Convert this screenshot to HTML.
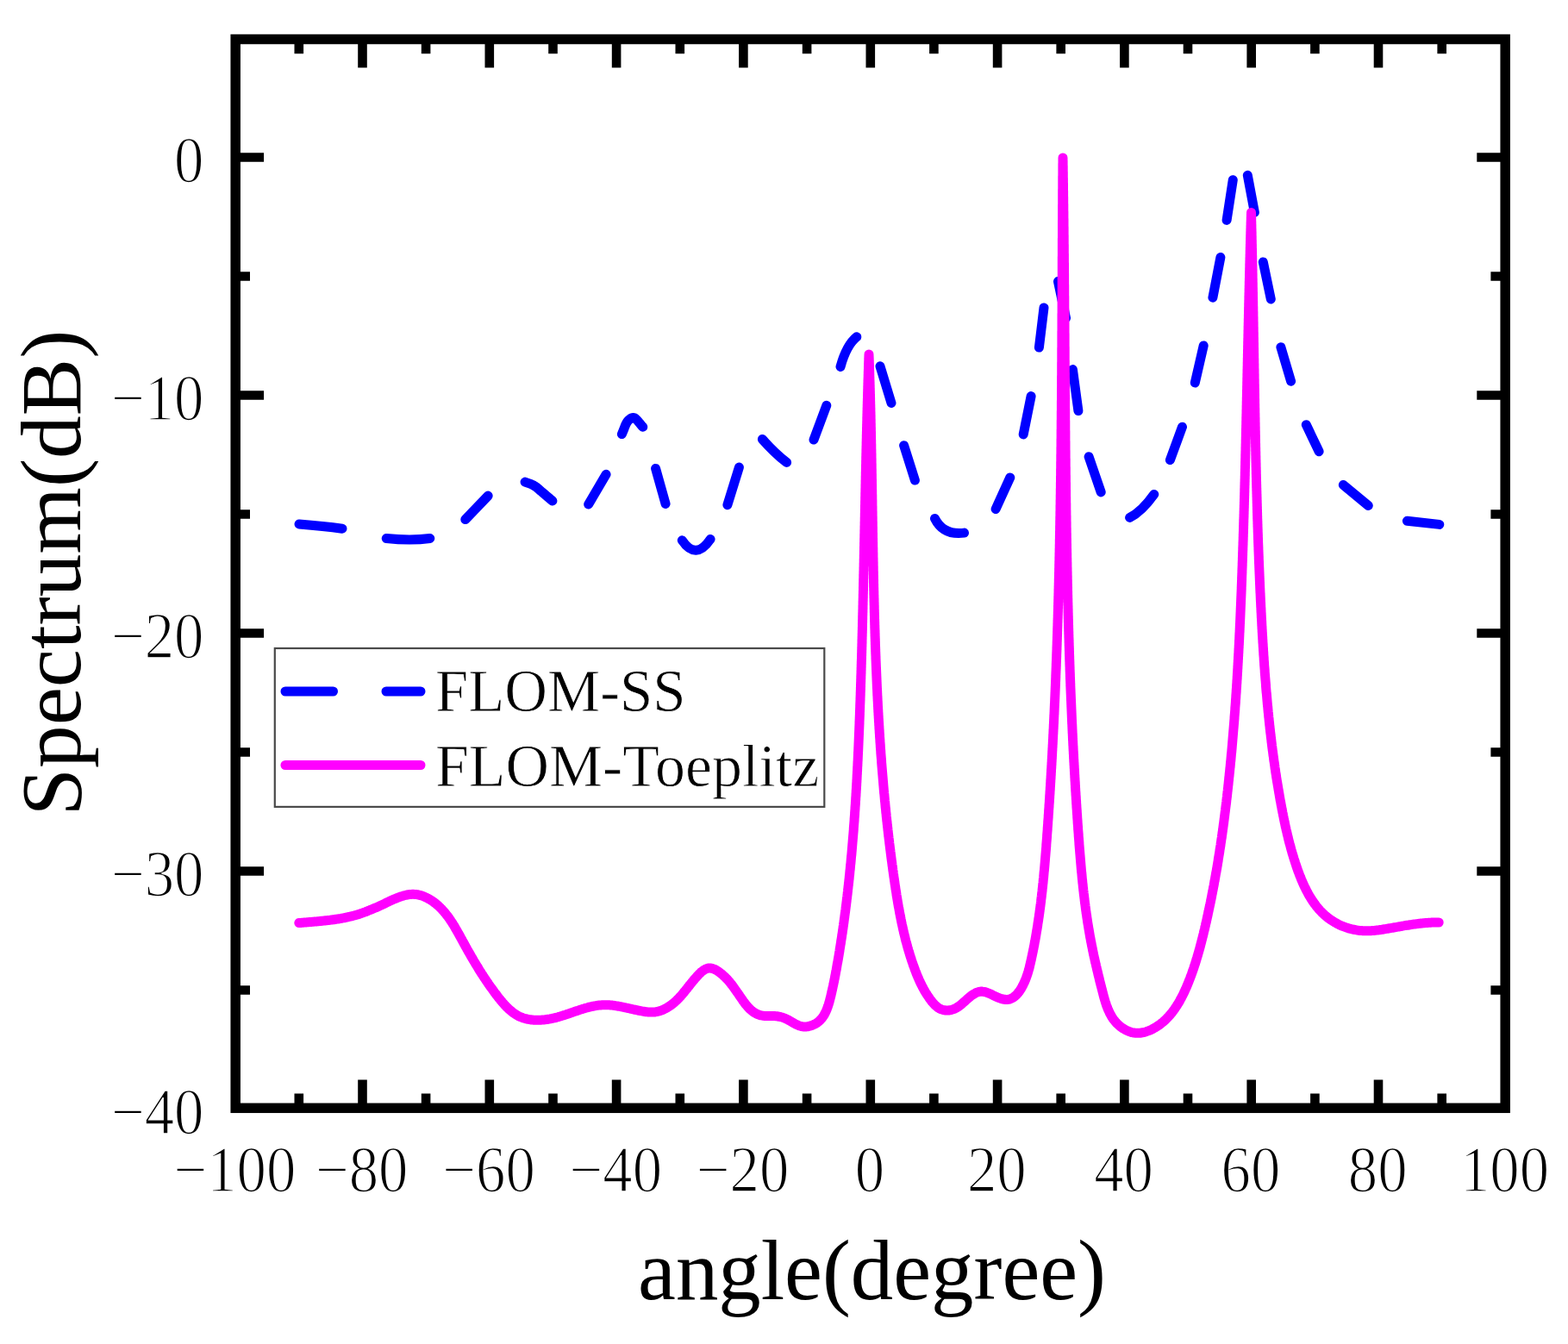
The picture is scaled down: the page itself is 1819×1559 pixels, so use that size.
<!DOCTYPE html><html><head><meta charset="utf-8"><title>Spectrum</title><style>html,body{margin:0;padding:0;background:#fff;}svg{display:block;}text{font-family:"Liberation Serif","Times New Roman",serif;fill:#000;}</style></head><body>
<svg width="1819" height="1559" viewBox="0 0 1819 1559">
<rect width="1819" height="1559" fill="#fff"/>
<path d="M347.0 608.0Q376.0 610.4 397.0 613.2 M448.2 624.5Q476.5 627.5 498.8 624.5 M539.8 602.6L566.2 575.1 M609.1 559.1L610.5 559.6 611.9 560.1 613.4 560.6 614.8 561.1 616.2 561.6 617.6 562.3 619.0 563.0 620.2 563.8 621.5 564.6 622.7 565.6 623.9 566.6 625.1 567.6 626.4 568.7 627.6 569.7 628.8 570.8 630.0 571.8 631.2 572.8 632.4 573.8 633.6 574.9 634.9 575.9 636.1 576.9 637.3 578.0 638.5 579.0 639.7 580.1 640.9 581.1 M682.7 585.0L703.1 550.3 M721.4 503.6L722.0 502.2 722.6 500.6 723.3 499.1 723.9 497.5 724.5 495.9 725.1 494.4 725.7 492.9 726.3 491.6 727.0 490.3 727.7 489.2 728.5 488.2 730.0 486.7 731.6 485.4 733.2 484.6 734.9 484.4 735.9 484.7 737.0 485.3 738.0 486.3 739.1 487.4 740.2 488.6 741.3 490.0 742.5 491.4 743.6 492.8 744.7 494.1 745.8 495.3 M760.6 543.4L772.1 584.4 M791.3 626.8Q807.1 650.4 824.1 625.5 M843.9 585.7L857.4 542.1 M884.4 509.5Q898.5 525.5 912.6 536.4 M944.0 510.1L958.8 470.3 M975.0 425.4Q982.0 400.3 993.8 390.8 M1021.0 424.8L1034.0 467.5 M1048.6 516.7L1061.4 557.1 M1084.5 601.4Q1094.5 621.2 1118.5 618.1 M1155.1 590.5L1171.8 553.9 M1187.2 503.9L1196.1 459.6 M1205.4 403.1L1211.0 356.9 M1227.5 326.5L1236.5 369.0 M1244.4 428.6L1250.9 476.6 M1263.1 529.8L1277.2 570.9 M1310.6 600.4Q1324.7 593.3 1338.8 573.4 M1357.4 533.6L1371.5 495.2 M1386.3 444.0L1396.2 400.9 M1406.9 345.2L1415.9 298.5 M1423.1 255.4L1430.3 208.7 M1447.3 203.3L1455.4 246.4 M1465.3 303.9L1474.3 347.0 M1485.9 402.7L1497.6 442.2 M1515.3 492.7L1530.1 523.7 M1558.3 562.5L1587.3 586.5 M1632.4 604.2L1669.8 608.4" fill="none" stroke="#00f" stroke-width="11" stroke-linecap="round" stroke-linejoin="round"/>
<path d="M346.8 1070.6L348.0 1070.5 349.2 1070.4 350.4 1070.3 351.6 1070.2 352.8 1070.1 354.0 1070.0 355.2 1069.9 356.4 1069.8 357.6 1069.7 358.8 1069.6 360.0 1069.5 361.2 1069.4 362.4 1069.3 363.6 1069.2 364.8 1069.1 366.0 1069.0 367.2 1068.9 368.3 1068.8 369.5 1068.7 370.7 1068.6 371.9 1068.5 373.1 1068.3 374.3 1068.2 375.5 1068.1 376.7 1068.0 377.9 1067.8 379.1 1067.7 380.3 1067.6 381.5 1067.4 382.7 1067.3 383.9 1067.1 385.1 1067.0 386.3 1066.8 387.4 1066.7 388.6 1066.5 389.8 1066.3 391.0 1066.1 392.2 1066.0 393.4 1065.8 394.6 1065.6 395.8 1065.4 396.9 1065.1 398.1 1064.9 399.3 1064.7 400.5 1064.5 401.7 1064.2 402.8 1064.0 404.0 1063.7 405.2 1063.4 406.3 1063.2 407.5 1062.9 408.7 1062.6 409.8 1062.3 411.0 1062.0 412.2 1061.7 413.3 1061.3 414.5 1061.0 415.6 1060.6 416.8 1060.3 417.9 1059.9 419.0 1059.5 420.2 1059.1 421.3 1058.7 422.4 1058.3 423.6 1057.9 424.7 1057.5 425.8 1057.0 426.9 1056.6 428.0 1056.1 429.1 1055.7 430.3 1055.2 431.4 1054.8 432.5 1054.3 433.6 1053.8 434.7 1053.3 435.8 1052.9 436.9 1052.4 438.0 1051.9 439.1 1051.4 440.2 1050.9 441.2 1050.4 442.3 1049.9 443.4 1049.4 444.5 1048.9 445.6 1048.4 446.7 1047.9 447.8 1047.3 448.9 1046.8 450.0 1046.3 451.0 1045.8 452.1 1045.3 453.2 1044.8 454.3 1044.3 455.4 1043.8 456.5 1043.3 457.6 1042.8 458.7 1042.4 459.8 1041.9 460.9 1041.5 462.1 1041.0 463.2 1040.6 464.3 1040.2 465.5 1039.8 466.6 1039.5 467.8 1039.1 468.9 1038.8 470.1 1038.5 471.2 1038.2 472.4 1038.0 473.6 1037.8 474.8 1037.6 476.0 1037.5 477.2 1037.4 478.4 1037.3 479.6 1037.3 480.8 1037.4 482.0 1037.5 483.2 1037.6 484.4 1037.8 485.5 1038.0 486.7 1038.3 487.9 1038.6 489.0 1038.9 490.2 1039.3 491.3 1039.7 492.4 1040.2 493.5 1040.7 494.6 1041.2 495.7 1041.7 496.7 1042.3 497.8 1042.9 498.8 1043.5 499.8 1044.1 500.8 1044.8 501.8 1045.4 502.8 1046.1 503.8 1046.9 504.7 1047.6 505.7 1048.3 506.6 1049.1 507.5 1049.9 508.4 1050.7 509.3 1051.5 510.2 1052.3 511.0 1053.2 511.9 1054.0 512.7 1054.9 513.5 1055.8 514.3 1056.7 515.1 1057.6 515.9 1058.5 516.6 1059.4 517.4 1060.4 518.1 1061.3 518.9 1062.3 519.6 1063.2 520.3 1064.2 521.0 1065.2 521.7 1066.1 522.4 1067.1 523.0 1068.1 523.7 1069.1 524.4 1070.1 525.0 1071.2 525.6 1072.2 526.3 1073.2 526.9 1074.2 527.5 1075.2 528.1 1076.3 528.7 1077.3 529.3 1078.4 529.9 1079.4 530.5 1080.4 531.1 1081.5 531.7 1082.5 532.3 1083.6 532.9 1084.6 533.4 1085.7 534.0 1086.7 534.6 1087.8 535.2 1088.9 535.8 1089.9 536.3 1091.0 536.9 1092.0 537.5 1093.1 538.1 1094.1 538.6 1095.2 539.2 1096.2 539.8 1097.3 540.4 1098.3 541.0 1099.4 541.5 1100.4 542.1 1101.5 542.7 1102.5 543.3 1103.6 543.9 1104.6 544.5 1105.7 545.1 1106.7 545.7 1107.7 546.3 1108.8 546.9 1109.8 547.5 1110.9 548.1 1111.9 548.7 1112.9 549.3 1114.0 549.9 1115.0 550.5 1116.0 551.2 1117.1 551.8 1118.1 552.4 1119.1 553.0 1120.2 553.7 1121.2 554.3 1122.2 554.9 1123.2 555.5 1124.3 556.2 1125.3 556.8 1126.3 557.5 1127.3 558.1 1128.3 558.7 1129.3 559.4 1130.3 560.1 1131.4 560.7 1132.4 561.4 1133.4 562.0 1134.4 562.7 1135.4 563.4 1136.4 564.0 1137.4 564.7 1138.4 565.4 1139.4 566.1 1140.3 566.7 1141.3 567.4 1142.3 568.1 1143.3 568.8 1144.3 569.5 1145.3 570.2 1146.2 570.9 1147.2 571.6 1148.2 572.3 1149.2 573.0 1150.1 573.7 1151.1 574.4 1152.1 575.2 1153.0 575.9 1154.0 576.6 1154.9 577.3 1155.9 578.1 1156.8 578.8 1157.8 579.6 1158.7 580.3 1159.7 581.1 1160.6 581.9 1161.5 582.6 1162.4 583.4 1163.3 584.2 1164.2 585.0 1165.1 585.8 1166.0 586.7 1166.9 587.5 1167.8 588.3 1168.6 589.2 1169.4 590.1 1170.3 591.0 1171.1 591.9 1171.9 592.8 1172.7 593.7 1173.4 594.7 1174.2 595.6 1174.9 596.6 1175.6 597.6 1176.2 598.6 1176.9 599.6 1177.5 600.7 1178.1 601.7 1178.7 602.8 1179.2 603.9 1179.7 605.0 1180.1 606.1 1180.6 607.3 1181.0 608.4 1181.3 609.6 1181.6 610.7 1181.9 611.9 1182.2 613.1 1182.4 614.3 1182.6 615.5 1182.8 616.7 1183.0 617.9 1183.1 619.1 1183.2 620.3 1183.3 621.5 1183.3 622.7 1183.3 623.9 1183.3 625.1 1183.3 626.3 1183.3 627.5 1183.2 628.7 1183.1 629.9 1183.0 631.0 1182.9 632.2 1182.8 633.4 1182.6 634.6 1182.5 635.8 1182.3 637.0 1182.1 638.2 1181.9 639.4 1181.6 640.5 1181.4 641.7 1181.1 642.9 1180.9 644.0 1180.6 645.2 1180.3 646.4 1180.0 647.5 1179.7 648.7 1179.3 649.8 1179.0 651.0 1178.6 652.1 1178.3 653.3 1177.9 654.4 1177.6 655.6 1177.2 656.7 1176.8 657.8 1176.4 659.0 1176.1 660.1 1175.7 661.3 1175.3 662.4 1174.9 663.5 1174.5 664.7 1174.1 665.8 1173.7 666.9 1173.3 668.1 1172.9 669.2 1172.6 670.4 1172.2 671.5 1171.8 672.6 1171.4 673.8 1171.0 674.9 1170.7 676.1 1170.3 677.2 1170.0 678.4 1169.6 679.5 1169.3 680.7 1169.0 681.8 1168.7 683.0 1168.3 684.2 1168.1 685.3 1167.8 686.5 1167.5 687.7 1167.3 688.9 1167.0 690.0 1166.8 691.2 1166.6 692.4 1166.4 693.6 1166.2 694.8 1166.1 696.0 1166.0 697.2 1165.9 698.4 1165.8 699.6 1165.7 700.8 1165.7 702.0 1165.7 703.2 1165.7 704.4 1165.7 705.6 1165.8 706.8 1165.8 708.0 1165.9 709.2 1166.0 710.4 1166.1 711.6 1166.3 712.8 1166.4 713.9 1166.6 715.1 1166.8 716.3 1167.0 717.5 1167.2 718.7 1167.4 719.9 1167.6 721.0 1167.9 722.2 1168.1 723.4 1168.4 724.6 1168.6 725.7 1168.9 726.9 1169.1 728.1 1169.4 729.3 1169.7 730.4 1169.9 731.6 1170.2 732.8 1170.4 733.9 1170.7 735.1 1171.0 736.3 1171.2 737.5 1171.5 738.6 1171.7 739.8 1172.0 741.0 1172.2 742.2 1172.5 743.3 1172.7 744.5 1172.9 745.7 1173.1 746.9 1173.3 748.1 1173.5 749.3 1173.7 750.5 1173.8 751.7 1173.9 752.9 1174.0 754.1 1174.1 755.3 1174.1 756.5 1174.1 757.7 1174.1 758.9 1174.0 760.1 1173.9 761.2 1173.7 762.4 1173.5 763.6 1173.2 764.8 1172.9 765.9 1172.5 767.0 1172.1 768.2 1171.7 769.3 1171.2 770.4 1170.7 771.4 1170.2 772.5 1169.6 773.5 1169.1 774.6 1168.4 775.6 1167.8 776.6 1167.1 777.6 1166.5 778.6 1165.8 779.5 1165.0 780.5 1164.3 781.4 1163.5 782.3 1162.8 783.2 1162.0 784.1 1161.2 785.0 1160.3 785.8 1159.5 786.7 1158.6 787.5 1157.8 788.3 1156.9 789.2 1156.0 790.0 1155.1 790.8 1154.2 791.5 1153.3 792.3 1152.4 793.1 1151.5 793.8 1150.5 794.6 1149.6 795.4 1148.7 796.1 1147.7 796.9 1146.8 797.6 1145.9 798.3 1144.9 799.1 1144.0 799.8 1143.0 800.6 1142.1 801.3 1141.1 802.1 1140.2 802.8 1139.3 803.6 1138.3 804.4 1137.4 805.1 1136.5 805.9 1135.6 806.7 1134.7 807.5 1133.8 808.3 1132.9 809.1 1132.0 809.9 1131.1 810.8 1130.2 811.6 1129.4 812.5 1128.6 813.3 1127.7 814.2 1127.0 815.2 1126.2 816.2 1125.5 817.2 1124.8 818.2 1124.3 819.3 1123.8 820.4 1123.4 821.6 1123.1 822.8 1123.0 824.0 1123.0 825.2 1123.2 826.4 1123.4 827.5 1123.8 828.6 1124.2 829.7 1124.8 830.8 1125.3 831.8 1125.9 832.8 1126.6 833.8 1127.3 834.8 1128.0 835.7 1128.7 836.7 1129.4 837.6 1130.2 838.5 1131.0 839.4 1131.8 840.3 1132.6 841.2 1133.4 842.0 1134.3 842.9 1135.1 843.7 1136.0 844.5 1136.9 845.3 1137.8 846.1 1138.7 846.8 1139.6 847.6 1140.6 848.3 1141.5 849.1 1142.5 849.8 1143.4 850.5 1144.4 851.2 1145.3 851.9 1146.3 852.6 1147.3 853.3 1148.3 854.0 1149.3 854.7 1150.3 855.4 1151.3 856.0 1152.2 856.7 1153.2 857.4 1154.2 858.0 1155.2 858.7 1156.2 859.4 1157.2 860.1 1158.2 860.8 1159.2 861.5 1160.2 862.1 1161.2 862.9 1162.1 863.6 1163.1 864.3 1164.0 865.0 1165.0 865.8 1165.9 866.6 1166.8 867.4 1167.8 868.2 1168.6 869.0 1169.5 869.8 1170.4 870.7 1171.2 871.6 1172.0 872.5 1172.7 873.5 1173.5 874.5 1174.2 875.5 1174.8 876.5 1175.4 877.6 1176.0 878.7 1176.5 879.8 1176.9 880.9 1177.3 882.1 1177.7 883.3 1177.9 884.4 1178.1 885.6 1178.3 886.8 1178.4 888.0 1178.5 889.2 1178.5 890.4 1178.5 891.6 1178.5 892.8 1178.5 894.0 1178.5 895.2 1178.5 896.4 1178.5 897.6 1178.5 898.8 1178.6 900.0 1178.7 901.2 1178.8 902.4 1179.0 903.6 1179.2 904.8 1179.4 905.9 1179.7 907.1 1180.0 908.3 1180.4 909.4 1180.8 910.5 1181.2 911.6 1181.7 912.7 1182.2 913.8 1182.7 914.8 1183.3 915.9 1183.9 916.9 1184.5 918.0 1185.1 919.0 1185.7 920.0 1186.3 921.1 1186.9 922.1 1187.5 923.2 1188.1 924.2 1188.6 925.3 1189.1 926.4 1189.6 927.6 1190.0 928.7 1190.3 929.9 1190.6 931.1 1190.8 932.3 1190.9 933.5 1191.0 934.7 1190.9 935.9 1190.9 937.1 1190.7 938.2 1190.5 939.4 1190.2 940.6 1189.9 941.7 1189.5 942.8 1189.1 943.9 1188.6 945.0 1188.1 946.1 1187.5 947.1 1186.9 948.1 1186.2 949.0 1185.5 950.0 1184.7 950.9 1183.9 951.7 1183.1 952.5 1182.2 953.3 1181.3 954.0 1180.3 954.7 1179.3 955.4 1178.3 956.0 1177.3 956.6 1176.3 957.2 1175.2 957.7 1174.1 958.2 1173.1 958.7 1172.0 959.2 1170.8 959.6 1169.7 960.0 1168.6 960.4 1167.5 960.8 1166.3 961.2 1165.2 961.5 1164.0 961.9 1162.9 962.2 1161.7 962.5 1160.6 962.8 1159.4 963.1 1158.2 963.4 1157.1 963.7 1155.9 964.0 1154.7 964.2 1153.6 964.5 1152.4 964.8 1151.2 965.0 1150.1 965.3 1148.9 965.6 1147.7 965.8 1146.5 966.1 1145.4 966.3 1144.2 966.6 1143.0 966.8 1141.8 967.1 1140.7 967.3 1139.5 967.6 1138.3 967.8 1137.1 968.0 1136.0 968.3 1134.8 968.5 1133.6 968.7 1132.4 969.0 1131.2 969.2 1130.1 969.4 1128.9 969.6 1127.7 969.8 1126.5 970.1 1125.3 970.3 1124.2 970.5 1123.0 970.7 1121.8 970.9 1120.6 971.1 1119.4 971.3 1118.2 971.5 1117.1 971.8 1115.9 972.0 1114.7 972.2 1113.5 972.4 1112.3 972.6 1111.1 972.8 1110.0 973.0 1108.8 973.2 1107.6 973.4 1106.4 973.6 1105.2 973.8 1104.0 974.0 1102.8 974.1 1101.7 974.3 1100.5 974.5 1099.3 974.7 1098.1 974.9 1096.9 975.1 1095.7 975.3 1094.5 975.5 1093.4 975.6 1092.2 975.8 1091.0 976.0 1089.8 976.2 1088.6 976.4 1087.4 976.6 1086.2 976.7 1085.0 976.9 1083.8 977.1 1082.7 977.3 1081.5 977.4 1080.3 977.6 1079.1 977.8 1077.9 978.0 1076.7 978.1 1075.5 978.3 1074.3 978.5 1073.1 978.6 1072.0 978.8 1070.8 979.0 1069.6 979.1 1068.4 979.3 1067.2 979.4 1066.0 979.6 1064.8 979.8 1063.6 979.9 1062.4 980.1 1061.2 980.2 1060.1 980.4 1058.9 980.6 1057.7 980.7 1056.5 980.9 1055.3 981.0 1054.1 981.2 1052.9 981.3 1051.7 981.5 1050.5 981.6 1049.3 981.8 1048.1 981.9 1046.9 982.1 1045.8 982.2 1044.6 982.3 1043.4 982.5 1042.2 982.6 1041.0 982.8 1039.8 982.9 1038.6 983.1 1037.4 983.2 1036.2 983.3 1035.0 983.5 1033.8 983.6 1032.6 983.7 1031.4 983.9 1030.2 984.0 1029.1 984.1 1027.9 984.3 1026.7 984.4 1025.5 984.5 1024.3 984.7 1023.1 984.8 1021.9 984.9 1020.7 985.1 1019.5 985.2 1018.3 985.3 1017.1 985.4 1015.9 985.6 1014.7 985.7 1013.5 985.8 1012.3 985.9 1011.1 986.0 1009.9 986.2 1008.7 986.3 1007.5 986.4 1006.3 986.5 1005.2 986.6 1004.0 986.7 1002.8 986.9 1001.6 987.0 1000.4 987.1 999.2 987.2 998.0 987.3 996.8 987.4 995.6 987.5 994.4 987.6 993.2 987.8 992.0 987.9 990.8 988.0 989.6 988.1 988.4 988.2 987.2 988.3 986.0 988.4 984.8 988.5 983.6 988.6 982.4 988.7 981.2 988.8 980.0 988.9 978.8 989.0 977.6 989.1 976.4 989.2 975.2 989.3 974.0 989.4 972.8 989.5 971.7 989.6 970.5 989.7 969.3 989.8 968.1 989.9 966.9 990.0 965.7 990.1 964.5 990.2 963.3 990.3 962.1 990.3 960.9 990.4 959.7 990.5 958.5 990.6 957.3 990.7 956.1 990.8 954.9 990.9 953.7 991.0 952.5 991.1 951.3 991.1 950.1 991.2 948.9 991.3 947.7 991.4 946.5 991.5 945.3 991.6 944.1 991.6 942.9 991.7 941.7 991.8 940.5 991.9 939.3 992.0 938.1 992.0 936.9 992.1 935.7 992.2 934.5 992.3 933.3 992.4 932.1 992.4 930.9 992.5 929.7 992.6 928.5 992.7 927.3 992.7 926.1 992.8 924.9 992.9 923.7 993.0 922.5 993.0 921.3 993.1 920.1 993.2 918.9 993.2 917.7 993.3 916.5 993.4 915.3 993.5 914.1 993.5 912.9 993.6 911.7 993.7 910.5 993.7 909.3 993.8 908.1 993.9 906.9 993.9 905.7 994.0 904.5 994.1 903.3 994.1 902.1 994.2 900.9 994.2 899.7 994.3 898.5 994.4 897.3 994.4 896.1 994.5 894.9 994.6 893.7 994.6 892.5 994.7 891.3 994.7 890.1 994.8 888.9 994.9 887.7 994.9 886.5 995.0 885.3 995.0 884.1 995.1 882.9 995.2 881.7 995.2 880.5 995.3 879.3 995.3 878.1 995.4 876.9 995.4 875.7 995.5 874.5 995.5 873.3 995.6 872.1 995.7 870.9 995.7 869.7 995.8 868.5 995.8 867.3 995.9 866.1 995.9 864.9 996.0 863.7 996.0 862.5 996.1 861.3 996.1 860.1 996.2 858.9 996.2 857.7 996.3 856.5 996.3 855.3 996.4 854.1 996.4 852.9 996.5 851.7 996.5 850.5 996.6 849.3 996.6 848.1 996.7 846.9 996.7 845.7 996.8 844.5 996.8 843.3 996.9 842.1 996.9 840.9 997.0 839.7 997.0 838.5 997.0 837.3 997.1 836.1 997.1 834.9 997.2 833.7 997.2 832.5 997.3 831.3 997.3 830.1 997.4 828.9 997.4 827.7 997.4 826.5 997.5 825.3 997.5 824.1 997.6 822.9 997.6 821.7 997.7 820.5 997.7 819.3 997.7 818.1 997.8 816.9 997.8 815.7 997.9 814.5 997.9 813.3 998.0 812.1 998.0 810.9 998.0 809.7 998.1 808.5 998.1 807.3 998.2 806.1 998.2 804.9 998.2 803.7 998.3 802.5 998.3 801.3 998.4 800.1 998.4 798.9 998.4 797.7 998.5 796.5 998.5 795.3 998.5 794.1 998.6 792.9 998.6 791.7 998.7 790.5 998.7 789.3 998.7 788.1 998.8 786.9 998.8 785.7 998.8 784.5 998.9 783.3 998.9 782.1 999.0 780.9 999.0 779.7 999.0 778.5 999.1 777.3 999.1 776.1 999.1 774.9 999.2 773.7 999.2 772.5 999.2 771.3 999.3 770.1 999.3 768.9 999.3 767.7 999.4 766.5 999.4 765.3 999.5 764.1 999.5 762.9 999.5 761.7 999.6 760.5 999.6 759.3 999.6 758.1 999.7 756.9 999.7 755.7 999.7 754.5 999.8 753.3 999.8 752.1 999.8 750.9 999.9 749.7 999.9 748.5 999.9 747.3 1000.0 746.1 1000.0 744.9 1000.0 743.7 1000.0 742.5 1000.1 741.3 1000.1 740.1 1000.1 738.9 1000.2 737.7 1000.2 736.5 1000.2 735.3 1000.3 734.1 1000.3 732.9 1000.3 731.7 1000.4 730.5 1000.4 729.3 1000.4 728.1 1000.5 726.9 1000.5 725.7 1000.5 724.5 1000.5 723.3 1000.6 722.1 1000.6 720.9 1000.6 719.7 1000.7 718.4 1000.7 717.2 1000.7 716.0 1000.7 714.8 1000.8 713.6 1000.8 712.4 1000.8 711.2 1000.9 710.0 1000.9 708.8 1000.9 707.6 1001.0 706.4 1001.0 705.2 1001.0 704.0 1001.0 702.8 1001.1 701.6 1001.1 700.4 1001.1 699.2 1001.1 698.0 1001.2 696.8 1001.2 695.6 1001.2 694.4 1001.3 693.2 1001.3 692.0 1001.3 690.8 1001.3 689.6 1001.4 688.4 1001.4 687.2 1001.4 686.0 1001.5 684.8 1001.5 683.6 1001.5 682.4 1001.5 681.2 1001.6 680.0 1001.6 678.8 1001.6 677.6 1001.6 676.4 1001.7 675.2 1001.7 674.0 1001.7 672.8 1001.7 671.6 1001.8 670.4 1001.8 669.2 1001.8 668.0 1001.8 666.8 1001.9 665.6 1001.9 664.4 1001.9 663.2 1002.0 662.0 1002.0 660.8 1002.0 659.6 1002.0 658.4 1002.1 657.2 1002.1 656.0 1002.1 654.8 1002.1 653.6 1002.2 652.4 1002.2 651.2 1002.2 650.0 1002.2 648.8 1002.3 647.6 1002.3 646.4 1002.3 645.2 1002.3 644.0 1002.4 642.8 1002.4 641.6 1002.4 640.4 1002.4 639.2 1002.5 638.0 1002.5 636.8 1002.5 635.6 1002.5 634.4 1002.6 633.2 1002.6 632.0 1002.6 630.8 1002.6 629.6 1002.7 628.4 1002.7 627.2 1002.7 626.0 1002.7 624.8 1002.8 623.6 1002.8 622.4 1002.8 621.2 1002.8 620.0 1002.9 618.8 1002.9 617.6 1002.9 616.4 1002.9 615.2 1003.0 614.0 1003.0 612.8 1003.0 611.6 1003.0 610.4 1003.1 609.2 1003.1 608.0 1003.1 606.8 1003.1 605.6 1003.2 604.4 1003.2 603.1 1003.2 601.9 1003.2 600.7 1003.3 599.5 1003.3 598.3 1003.3 597.1 1003.3 595.9 1003.4 594.7 1003.4 593.5 1003.4 592.3 1003.4 591.1 1003.5 589.9 1003.5 588.7 1003.5 587.5 1003.5 586.3 1003.6 585.1 1003.6 583.9 1003.6 582.7 1003.6 581.5 1003.7 580.3 1003.7 579.1 1003.7 577.9 1003.7 576.7 1003.8 575.5 1003.8 574.3 1003.8 573.1 1003.8 571.9 1003.9 570.7 1003.9 569.5 1003.9 568.3 1003.9 567.1 1004.0 565.9 1004.0 564.7 1004.0 563.5 1004.0 562.3 1004.1 561.1 1004.1 559.9 1004.1 558.7 1004.1 557.5 1004.2 556.3 1004.2 555.1 1004.2 553.9 1004.2 552.7 1004.3 551.5 1004.3 550.3 1004.3 549.1 1004.3 547.9 1004.4 546.7 1004.4 545.5 1004.4 544.3 1004.5 543.1 1004.5 541.9 1004.5 540.7 1004.5 539.5 1004.6 538.3 1004.6 537.1 1004.6 535.9 1004.6 534.7 1004.7 533.5 1004.7 532.3 1004.7 531.1 1004.7 529.9 1004.8 528.7 1004.8 527.5 1004.8 526.3 1004.9 525.1 1004.9 523.9 1004.9 522.7 1004.9 521.5 1005.0 520.3 1005.0 519.1 1005.0 517.9 1005.1 516.7 1005.1 515.5 1005.1 514.3 1005.1 513.1 1005.2 511.9 1005.2 510.7 1005.2 509.5 1005.3 508.3 1005.3 507.1 1005.3 505.9 1005.3 504.7 1005.4 503.5 1005.4 502.3 1005.4 501.1 1005.5 499.9 1005.5 498.7 1005.5 497.5 1005.5 496.3 1005.6 495.1 1005.6 493.9 1005.6 492.7 1005.7 491.5 1005.7 490.3 1005.7 489.1 1005.8 487.9 1005.8 486.7 1005.8 485.4 1005.8 484.2 1005.9 483.0 1005.9 481.8 1005.9 480.6 1006.0 479.4 1006.0 478.2 1006.0 477.0 1006.1 475.8 1006.1 474.6 1006.1 473.4 1006.2 472.2 1006.2 471.0 1006.2 469.8 1006.3 468.6 1006.3 467.4 1006.3 466.2 1006.4 465.0 1006.4 463.8 1006.4 462.6 1006.5 461.4 1006.5 460.2 1006.5 459.0 1006.6 457.8 1006.6 456.6 1006.6 455.4 1006.7 454.2 1006.7 453.0 1006.7 451.8 1006.8 450.6 1006.8 449.4 1006.8 448.2 1006.9 447.0 1006.9 445.8 1006.9 444.6 1007.0 443.4 1007.0 442.2 1007.0 441.0 1007.1 439.8 1007.1 438.6 1007.2 437.4 1007.2 436.2 1007.2 435.0 1007.3 433.8 1007.3 432.6 1007.3 431.4 1007.4 430.2 1007.4 429.0 1007.5 427.8 1007.5 426.6 1007.5 425.4 1007.6 424.2 1007.6 423.0 1007.6 421.8 1007.7 420.6 1007.7 419.4 1007.8 418.2 1007.8 417.0 1007.8 415.8 1007.9 414.6 1007.9 413.4 1008.0 412.2 1008.0 411.0 1008.0 412.2 1008.1 413.4 1008.1 414.6 1008.2 415.8 1008.2 417.0 1008.3 418.2 1008.3 419.4 1008.3 420.6 1008.4 421.8 1008.4 423.0 1008.5 424.2 1008.5 425.4 1008.5 426.6 1008.6 427.8 1008.6 429.0 1008.7 430.2 1008.7 431.4 1008.7 432.6 1008.8 433.8 1008.8 435.0 1008.8 436.2 1008.9 437.4 1008.9 438.6 1008.9 439.8 1009.0 441.0 1009.0 442.2 1009.1 443.4 1009.1 444.6 1009.1 445.8 1009.2 447.0 1009.2 448.2 1009.2 449.4 1009.3 450.6 1009.3 451.8 1009.3 453.0 1009.4 454.2 1009.4 455.4 1009.4 456.6 1009.5 457.8 1009.5 459.0 1009.5 460.2 1009.6 461.4 1009.6 462.6 1009.6 463.8 1009.6 465.0 1009.7 466.2 1009.7 467.4 1009.7 468.6 1009.8 469.8 1009.8 471.0 1009.8 472.2 1009.9 473.4 1009.9 474.6 1009.9 475.8 1009.9 477.0 1010.0 478.2 1010.0 479.4 1010.0 480.6 1010.1 481.8 1010.1 483.0 1010.1 484.2 1010.1 485.4 1010.2 486.6 1010.2 487.8 1010.2 489.0 1010.2 490.2 1010.3 491.4 1010.3 492.6 1010.3 493.8 1010.3 495.0 1010.4 496.2 1010.4 497.4 1010.4 498.6 1010.4 499.8 1010.5 501.0 1010.5 502.2 1010.5 503.4 1010.5 504.6 1010.6 505.8 1010.6 507.0 1010.6 508.2 1010.6 509.4 1010.7 510.6 1010.7 511.8 1010.7 513.0 1010.7 514.2 1010.8 515.4 1010.8 516.6 1010.8 517.8 1010.8 519.0 1010.8 520.2 1010.9 521.4 1010.9 522.6 1010.9 523.8 1010.9 525.0 1011.0 526.3 1011.0 527.5 1011.0 528.7 1011.0 529.9 1011.0 531.1 1011.1 532.3 1011.1 533.5 1011.1 534.7 1011.1 535.9 1011.1 537.1 1011.2 538.3 1011.2 539.5 1011.2 540.7 1011.2 541.9 1011.2 543.1 1011.3 544.3 1011.3 545.5 1011.3 546.7 1011.3 547.9 1011.3 549.1 1011.4 550.3 1011.4 551.5 1011.4 552.7 1011.4 553.9 1011.4 555.1 1011.5 556.3 1011.5 557.5 1011.5 558.7 1011.5 559.9 1011.5 561.1 1011.6 562.3 1011.6 563.5 1011.6 564.7 1011.6 565.9 1011.6 567.1 1011.7 568.3 1011.7 569.5 1011.7 570.7 1011.7 571.9 1011.7 573.1 1011.8 574.3 1011.8 575.5 1011.8 576.7 1011.8 577.9 1011.8 579.1 1011.9 580.3 1011.9 581.5 1011.9 582.7 1011.9 583.9 1011.9 585.1 1011.9 586.3 1012.0 587.5 1012.0 588.7 1012.0 589.9 1012.0 591.1 1012.0 592.3 1012.1 593.5 1012.1 594.7 1012.1 595.9 1012.1 597.1 1012.1 598.3 1012.2 599.5 1012.2 600.7 1012.2 601.9 1012.2 603.1 1012.2 604.3 1012.3 605.5 1012.3 606.7 1012.3 607.9 1012.3 609.1 1012.3 610.3 1012.4 611.5 1012.4 612.7 1012.4 613.9 1012.4 615.1 1012.4 616.3 1012.4 617.5 1012.5 618.7 1012.5 619.9 1012.5 621.1 1012.5 622.3 1012.5 623.5 1012.6 624.7 1012.6 625.9 1012.6 627.1 1012.6 628.3 1012.7 629.5 1012.7 630.7 1012.7 631.9 1012.7 633.1 1012.7 634.3 1012.8 635.5 1012.8 636.7 1012.8 637.9 1012.8 639.1 1012.8 640.3 1012.9 641.5 1012.9 642.7 1012.9 643.9 1012.9 645.1 1012.9 646.3 1013.0 647.5 1013.0 648.7 1013.0 649.9 1013.0 651.1 1013.1 652.3 1013.1 653.5 1013.1 654.7 1013.1 655.9 1013.2 657.1 1013.2 658.3 1013.2 659.5 1013.2 660.7 1013.2 661.9 1013.3 663.1 1013.3 664.3 1013.3 665.5 1013.3 666.7 1013.4 667.9 1013.4 669.1 1013.4 670.3 1013.4 671.5 1013.5 672.7 1013.5 673.9 1013.5 675.1 1013.5 676.3 1013.6 677.5 1013.6 678.7 1013.6 679.9 1013.6 681.1 1013.7 682.3 1013.7 683.5 1013.7 684.7 1013.8 685.9 1013.8 687.2 1013.8 688.4 1013.8 689.6 1013.9 690.8 1013.9 692.0 1013.9 693.2 1014.0 694.4 1014.0 695.6 1014.0 696.8 1014.0 698.0 1014.1 699.2 1014.1 700.4 1014.1 701.6 1014.2 702.8 1014.2 704.0 1014.2 705.2 1014.2 706.4 1014.3 707.6 1014.3 708.8 1014.3 710.0 1014.4 711.2 1014.4 712.4 1014.4 713.6 1014.5 714.8 1014.5 716.0 1014.5 717.2 1014.6 718.4 1014.6 719.6 1014.6 720.8 1014.7 722.0 1014.7 723.2 1014.7 724.4 1014.8 725.6 1014.8 726.8 1014.8 728.0 1014.9 729.2 1014.9 730.4 1015.0 731.6 1015.0 732.8 1015.0 734.0 1015.1 735.2 1015.1 736.4 1015.1 737.6 1015.2 738.8 1015.2 740.0 1015.3 741.2 1015.3 742.4 1015.3 743.6 1015.4 744.8 1015.4 746.0 1015.4 747.2 1015.5 748.4 1015.5 749.6 1015.6 750.8 1015.6 752.0 1015.7 753.2 1015.7 754.4 1015.7 755.6 1015.8 756.8 1015.8 758.0 1015.9 759.2 1015.9 760.4 1016.0 761.6 1016.0 762.8 1016.0 764.0 1016.1 765.2 1016.1 766.4 1016.2 767.6 1016.2 768.8 1016.3 770.0 1016.3 771.2 1016.4 772.4 1016.4 773.6 1016.5 774.8 1016.5 776.0 1016.6 777.2 1016.6 778.4 1016.7 779.6 1016.7 780.8 1016.8 782.0 1016.8 783.2 1016.9 784.4 1016.9 785.6 1017.0 786.8 1017.0 788.0 1017.1 789.2 1017.1 790.4 1017.2 791.6 1017.2 792.8 1017.3 794.0 1017.3 795.2 1017.4 796.4 1017.4 797.6 1017.5 798.8 1017.6 800.0 1017.6 801.2 1017.7 802.4 1017.7 803.6 1017.8 804.8 1017.8 806.0 1017.9 807.2 1018.0 808.4 1018.0 809.6 1018.1 810.8 1018.1 812.0 1018.2 813.2 1018.3 814.4 1018.3 815.6 1018.4 816.8 1018.4 818.0 1018.5 819.2 1018.6 820.4 1018.6 821.6 1018.7 822.8 1018.8 824.0 1018.8 825.2 1018.9 826.4 1019.0 827.6 1019.0 828.8 1019.1 830.0 1019.2 831.2 1019.2 832.4 1019.3 833.6 1019.4 834.8 1019.4 836.0 1019.5 837.1 1019.6 838.3 1019.7 839.5 1019.7 840.7 1019.8 841.9 1019.9 843.1 1019.9 844.3 1020.0 845.5 1020.1 846.7 1020.2 847.9 1020.2 849.1 1020.3 850.3 1020.4 851.5 1020.5 852.7 1020.5 853.9 1020.6 855.1 1020.7 856.3 1020.8 857.5 1020.9 858.7 1020.9 859.9 1021.0 861.1 1021.1 862.3 1021.2 863.5 1021.3 864.7 1021.3 865.9 1021.4 867.1 1021.5 868.3 1021.6 869.5 1021.7 870.7 1021.8 871.9 1021.8 873.1 1021.9 874.3 1022.0 875.5 1022.1 876.7 1022.2 877.9 1022.3 879.1 1022.4 880.3 1022.5 881.5 1022.6 882.7 1022.6 883.9 1022.7 885.1 1022.8 886.3 1022.9 887.5 1023.0 888.7 1023.1 889.9 1023.2 891.1 1023.3 892.3 1023.4 893.5 1023.5 894.7 1023.6 895.9 1023.7 897.0 1023.8 898.2 1023.9 899.4 1024.0 900.6 1024.1 901.8 1024.2 903.0 1024.3 904.2 1024.4 905.4 1024.5 906.6 1024.6 907.8 1024.7 909.0 1024.8 910.2 1024.9 911.4 1025.0 912.6 1025.1 913.8 1025.2 915.0 1025.3 916.2 1025.4 917.4 1025.5 918.6 1025.6 919.8 1025.8 921.0 1025.9 922.2 1026.0 923.4 1026.1 924.6 1026.2 925.8 1026.3 927.0 1026.4 928.2 1026.5 929.3 1026.7 930.5 1026.8 931.7 1026.9 932.9 1027.0 934.1 1027.1 935.3 1027.2 936.5 1027.4 937.7 1027.5 938.9 1027.6 940.1 1027.7 941.3 1027.8 942.5 1028.0 943.7 1028.1 944.9 1028.2 946.1 1028.3 947.3 1028.5 948.5 1028.6 949.7 1028.7 950.9 1028.8 952.0 1029.0 953.2 1029.1 954.4 1029.2 955.6 1029.4 956.8 1029.5 958.0 1029.6 959.2 1029.8 960.4 1029.9 961.6 1030.0 962.8 1030.2 964.0 1030.3 965.2 1030.4 966.4 1030.6 967.6 1030.7 968.8 1030.8 970.0 1031.0 971.1 1031.1 972.3 1031.3 973.5 1031.4 974.7 1031.6 975.9 1031.7 977.1 1031.8 978.3 1032.0 979.5 1032.1 980.7 1032.3 981.9 1032.4 983.1 1032.6 984.3 1032.7 985.5 1032.9 986.6 1033.0 987.8 1033.2 989.0 1033.3 990.2 1033.5 991.4 1033.6 992.6 1033.8 993.8 1033.9 995.0 1034.1 996.2 1034.2 997.4 1034.4 998.6 1034.6 999.7 1034.7 1000.9 1034.9 1002.1 1035.0 1003.3 1035.2 1004.5 1035.4 1005.7 1035.5 1006.9 1035.7 1008.1 1035.8 1009.3 1036.0 1010.5 1036.2 1011.6 1036.3 1012.8 1036.5 1014.0 1036.7 1015.2 1036.8 1016.4 1037.0 1017.6 1037.2 1018.8 1037.4 1020.0 1037.5 1021.2 1037.7 1022.3 1037.9 1023.5 1038.0 1024.7 1038.2 1025.9 1038.4 1027.1 1038.6 1028.3 1038.8 1029.5 1038.9 1030.7 1039.1 1031.8 1039.3 1033.0 1039.5 1034.2 1039.7 1035.4 1039.9 1036.6 1040.0 1037.8 1040.2 1039.0 1040.4 1040.2 1040.6 1041.3 1040.8 1042.5 1041.0 1043.7 1041.2 1044.9 1041.4 1046.1 1041.6 1047.3 1041.8 1048.4 1042.0 1049.6 1042.2 1050.8 1042.4 1052.0 1042.7 1053.2 1042.9 1054.4 1043.1 1055.5 1043.3 1056.7 1043.5 1057.9 1043.7 1059.1 1044.0 1060.3 1044.2 1061.4 1044.4 1062.6 1044.7 1063.8 1044.9 1065.0 1045.1 1066.1 1045.4 1067.3 1045.6 1068.5 1045.8 1069.7 1046.1 1070.9 1046.3 1072.0 1046.6 1073.2 1046.9 1074.4 1047.1 1075.5 1047.4 1076.7 1047.6 1077.9 1047.9 1079.1 1048.2 1080.2 1048.4 1081.4 1048.7 1082.6 1049.0 1083.7 1049.3 1084.9 1049.6 1086.1 1049.9 1087.2 1050.1 1088.4 1050.4 1089.6 1050.7 1090.7 1051.0 1091.9 1051.4 1093.1 1051.7 1094.2 1052.0 1095.4 1052.3 1096.5 1052.6 1097.7 1052.9 1098.8 1053.3 1100.0 1053.6 1101.2 1053.9 1102.3 1054.3 1103.5 1054.6 1104.6 1055.0 1105.8 1055.3 1106.9 1055.7 1108.1 1056.0 1109.2 1056.4 1110.3 1056.8 1111.5 1057.1 1112.6 1057.5 1113.8 1057.9 1114.9 1058.3 1116.1 1058.7 1117.2 1059.1 1118.3 1059.4 1119.5 1059.9 1120.6 1060.3 1121.7 1060.7 1122.8 1061.1 1124.0 1061.5 1125.1 1061.9 1126.2 1062.4 1127.3 1062.8 1128.5 1063.2 1129.6 1063.7 1130.7 1064.1 1131.8 1064.6 1132.9 1065.1 1134.0 1065.6 1135.1 1066.0 1136.2 1066.5 1137.3 1067.0 1138.4 1067.5 1139.5 1068.1 1140.6 1068.6 1141.7 1069.1 1142.7 1069.7 1143.8 1070.2 1144.9 1070.8 1145.9 1071.3 1147.0 1071.9 1148.0 1072.5 1149.1 1073.1 1150.1 1073.7 1151.1 1074.4 1152.2 1075.0 1153.2 1075.6 1154.2 1076.3 1155.2 1077.0 1156.2 1077.7 1157.2 1078.3 1158.2 1079.0 1159.2 1079.8 1160.1 1080.5 1161.1 1081.2 1162.0 1082.0 1162.9 1082.8 1163.9 1083.6 1164.7 1084.4 1165.6 1085.3 1166.4 1086.2 1167.2 1087.1 1168.0 1088.1 1168.7 1089.1 1169.4 1090.1 1170.0 1091.2 1170.5 1092.3 1170.9 1093.5 1171.3 1094.6 1171.6 1095.8 1171.8 1097.0 1172.0 1098.2 1172.0 1099.4 1172.0 1100.6 1172.0 1101.8 1171.8 1103.0 1171.6 1104.1 1171.3 1105.3 1170.9 1106.4 1170.5 1107.5 1170.1 1108.6 1169.5 1109.7 1169.0 1110.7 1168.3 1111.7 1167.7 1112.7 1167.0 1113.6 1166.3 1114.6 1165.5 1115.5 1164.8 1116.4 1164.0 1117.3 1163.2 1118.2 1162.4 1119.1 1161.6 1120.0 1160.8 1120.9 1160.0 1121.8 1159.2 1122.7 1158.4 1123.6 1157.6 1124.5 1156.8 1125.4 1156.1 1126.4 1155.3 1127.4 1154.6 1128.3 1153.9 1129.4 1153.3 1130.4 1152.7 1131.4 1152.1 1132.5 1151.6 1133.6 1151.1 1134.8 1150.7 1135.9 1150.4 1137.1 1150.2 1138.3 1150.1 1139.5 1150.1 1140.7 1150.3 1141.9 1150.5 1143.1 1150.7 1144.2 1151.1 1145.3 1151.5 1146.5 1151.9 1147.6 1152.4 1148.7 1152.8 1149.8 1153.3 1150.9 1153.9 1151.9 1154.4 1153.0 1154.9 1154.1 1155.4 1155.2 1155.9 1156.3 1156.4 1157.4 1156.9 1158.5 1157.4 1159.6 1157.8 1160.7 1158.2 1161.9 1158.6 1163.0 1158.9 1164.2 1159.2 1165.4 1159.3 1166.6 1159.5 1167.8 1159.5 1169.0 1159.4 1170.2 1159.2 1171.3 1159.0 1172.5 1158.6 1173.6 1158.1 1174.6 1157.5 1175.7 1156.9 1176.6 1156.2 1177.6 1155.4 1178.4 1154.6 1179.3 1153.8 1180.1 1152.9 1180.9 1152.0 1181.6 1151.0 1182.4 1150.1 1183.0 1149.1 1183.7 1148.1 1184.4 1147.1 1185.0 1146.0 1185.6 1145.0 1186.1 1143.9 1186.7 1142.9 1187.2 1141.8 1187.7 1140.7 1188.3 1139.6 1188.7 1138.5 1189.2 1137.4 1189.7 1136.3 1190.1 1135.2 1190.5 1134.1 1190.9 1132.9 1191.3 1131.8 1191.7 1130.7 1192.1 1129.5 1192.4 1128.4 1192.8 1127.2 1193.1 1126.1 1193.4 1124.9 1193.8 1123.8 1194.1 1122.6 1194.4 1121.4 1194.6 1120.3 1194.9 1119.1 1195.2 1117.9 1195.5 1116.8 1195.7 1115.6 1196.0 1114.4 1196.3 1113.3 1196.5 1112.1 1196.8 1110.9 1197.0 1109.7 1197.3 1108.6 1197.5 1107.4 1197.8 1106.2 1198.0 1105.0 1198.3 1103.9 1198.5 1102.7 1198.7 1101.5 1199.0 1100.3 1199.2 1099.1 1199.4 1098.0 1199.7 1096.8 1199.9 1095.6 1200.1 1094.4 1200.3 1093.2 1200.5 1092.1 1200.8 1090.9 1201.0 1089.7 1201.2 1088.5 1201.4 1087.3 1201.6 1086.2 1201.8 1085.0 1202.0 1083.8 1202.2 1082.6 1202.4 1081.4 1202.6 1080.2 1202.8 1079.0 1203.0 1077.9 1203.2 1076.7 1203.4 1075.5 1203.6 1074.3 1203.8 1073.1 1203.9 1071.9 1204.1 1070.7 1204.3 1069.6 1204.5 1068.4 1204.7 1067.2 1204.8 1066.0 1205.0 1064.8 1205.2 1063.6 1205.4 1062.4 1205.5 1061.2 1205.7 1060.1 1205.9 1058.9 1206.0 1057.7 1206.2 1056.5 1206.3 1055.3 1206.5 1054.1 1206.7 1052.9 1206.8 1051.7 1207.0 1050.5 1207.1 1049.3 1207.3 1048.1 1207.4 1047.0 1207.6 1045.8 1207.7 1044.6 1207.8 1043.4 1208.0 1042.2 1208.1 1041.0 1208.3 1039.8 1208.4 1038.6 1208.5 1037.4 1208.7 1036.2 1208.8 1035.0 1209.0 1033.8 1209.1 1032.6 1209.2 1031.4 1209.3 1030.3 1209.5 1029.1 1209.6 1027.9 1209.7 1026.7 1209.8 1025.5 1210.0 1024.3 1210.1 1023.1 1210.2 1021.9 1210.3 1020.7 1210.4 1019.5 1210.6 1018.3 1210.7 1017.1 1210.8 1015.9 1210.9 1014.7 1211.0 1013.5 1211.1 1012.3 1211.2 1011.1 1211.4 1009.9 1211.5 1008.7 1211.6 1007.5 1211.7 1006.3 1211.8 1005.2 1211.9 1004.0 1212.0 1002.8 1212.1 1001.6 1212.2 1000.4 1212.3 999.2 1212.4 998.0 1212.5 996.8 1212.6 995.6 1212.7 994.4 1212.8 993.2 1212.9 992.0 1213.0 990.8 1213.1 989.6 1213.2 988.4 1213.3 987.2 1213.4 986.0 1213.5 984.8 1213.6 983.6 1213.7 982.4 1213.8 981.2 1213.8 980.0 1213.9 978.8 1214.0 977.6 1214.1 976.4 1214.2 975.2 1214.3 974.0 1214.4 972.8 1214.5 971.6 1214.6 970.4 1214.6 969.2 1214.7 968.0 1214.8 966.8 1214.9 965.6 1215.0 964.4 1215.1 963.2 1215.2 962.0 1215.2 960.9 1215.3 959.7 1215.4 958.5 1215.5 957.3 1215.6 956.1 1215.7 954.9 1215.7 953.7 1215.8 952.5 1215.9 951.3 1216.0 950.1 1216.1 948.9 1216.2 947.7 1216.2 946.5 1216.3 945.3 1216.4 944.1 1216.5 942.9 1216.6 941.7 1216.6 940.5 1216.7 939.3 1216.8 938.1 1216.9 936.9 1217.0 935.7 1217.0 934.5 1217.1 933.3 1217.2 932.1 1217.3 930.9 1217.4 929.7 1217.4 928.5 1217.5 927.3 1217.6 926.1 1217.7 924.9 1217.7 923.7 1217.8 922.5 1217.9 921.3 1218.0 920.1 1218.0 918.9 1218.1 917.7 1218.2 916.5 1218.3 915.3 1218.3 914.1 1218.4 912.9 1218.5 911.7 1218.6 910.5 1218.6 909.3 1218.7 908.1 1218.8 906.9 1218.8 905.7 1218.9 904.5 1219.0 903.3 1219.1 902.1 1219.1 900.9 1219.2 899.7 1219.3 898.5 1219.3 897.3 1219.4 896.1 1219.5 894.9 1219.5 893.7 1219.6 892.5 1219.7 891.3 1219.8 890.1 1219.8 888.9 1219.9 887.7 1220.0 886.5 1220.0 885.3 1220.1 884.1 1220.2 882.9 1220.2 881.7 1220.3 880.5 1220.4 879.3 1220.4 878.1 1220.5 877.0 1220.6 875.8 1220.6 874.6 1220.7 873.4 1220.7 872.2 1220.8 871.0 1220.9 869.8 1220.9 868.6 1221.0 867.4 1221.1 866.2 1221.1 865.0 1221.2 863.8 1221.3 862.6 1221.3 861.4 1221.4 860.2 1221.4 859.0 1221.5 857.8 1221.6 856.6 1221.6 855.4 1221.7 854.2 1221.7 853.0 1221.8 851.8 1221.9 850.6 1221.9 849.4 1222.0 848.2 1222.0 847.0 1222.1 845.8 1222.2 844.6 1222.2 843.4 1222.3 842.2 1222.3 841.0 1222.4 839.8 1222.5 838.6 1222.5 837.4 1222.6 836.2 1222.6 835.0 1222.7 833.8 1222.7 832.6 1222.8 831.4 1222.8 830.2 1222.9 829.0 1223.0 827.8 1223.0 826.6 1223.1 825.4 1223.1 824.2 1223.2 823.0 1223.2 821.8 1223.3 820.6 1223.3 819.4 1223.4 818.2 1223.4 817.0 1223.5 815.8 1223.6 814.6 1223.6 813.4 1223.7 812.2 1223.7 811.0 1223.8 809.8 1223.8 808.6 1223.9 807.4 1223.9 806.2 1224.0 805.0 1224.0 803.8 1224.1 802.6 1224.1 801.4 1224.2 800.2 1224.2 799.0 1224.3 797.8 1224.3 796.6 1224.4 795.4 1224.4 794.2 1224.5 793.0 1224.5 791.8 1224.6 790.6 1224.6 789.4 1224.7 788.2 1224.7 787.0 1224.8 785.8 1224.8 784.6 1224.8 783.4 1224.9 782.2 1224.9 781.0 1225.0 779.8 1225.0 778.6 1225.1 777.4 1225.1 776.2 1225.2 775.0 1225.2 773.8 1225.3 772.6 1225.3 771.4 1225.3 770.2 1225.4 769.0 1225.4 767.8 1225.5 766.6 1225.5 765.4 1225.6 764.2 1225.6 763.0 1225.7 761.8 1225.7 760.6 1225.7 759.4 1225.8 758.2 1225.8 757.0 1225.9 755.8 1225.9 754.6 1226.0 753.4 1226.0 752.2 1226.0 751.0 1226.1 749.8 1226.1 748.6 1226.2 747.4 1226.2 746.2 1226.2 745.0 1226.3 743.8 1226.3 742.6 1226.4 741.4 1226.4 740.2 1226.4 739.0 1226.5 737.8 1226.5 736.6 1226.6 735.4 1226.6 734.2 1226.6 733.0 1226.7 731.8 1226.7 730.6 1226.7 729.4 1226.8 728.2 1226.8 727.0 1226.9 725.8 1226.9 724.6 1226.9 723.4 1227.0 722.2 1227.0 721.0 1227.0 719.8 1227.1 718.6 1227.1 717.4 1227.2 716.2 1227.2 715.0 1227.2 713.8 1227.3 712.6 1227.3 711.4 1227.3 710.2 1227.4 709.0 1227.4 707.8 1227.4 706.6 1227.5 705.4 1227.5 704.2 1227.5 703.0 1227.6 701.8 1227.6 700.6 1227.6 699.4 1227.7 698.2 1227.7 697.0 1227.7 695.8 1227.8 694.6 1227.8 693.4 1227.8 692.2 1227.9 691.0 1227.9 689.8 1227.9 688.6 1228.0 687.4 1228.0 686.2 1228.0 685.0 1228.0 683.8 1228.1 682.6 1228.1 681.4 1228.1 680.2 1228.2 679.0 1228.2 677.8 1228.2 676.6 1228.3 675.4 1228.3 674.2 1228.3 673.0 1228.3 671.7 1228.4 670.5 1228.4 669.3 1228.4 668.1 1228.5 666.9 1228.5 665.7 1228.5 664.5 1228.6 663.3 1228.6 662.1 1228.6 660.9 1228.6 659.7 1228.7 658.5 1228.7 657.3 1228.7 656.1 1228.7 654.9 1228.8 653.7 1228.8 652.5 1228.8 651.3 1228.9 650.1 1228.9 648.9 1228.9 647.7 1228.9 646.5 1229.0 645.3 1229.0 644.1 1229.0 642.9 1229.0 641.7 1229.1 640.5 1229.1 639.3 1229.1 638.1 1229.1 636.9 1229.2 635.7 1229.2 634.5 1229.2 633.3 1229.2 632.1 1229.3 630.9 1229.3 629.7 1229.3 628.5 1229.3 627.3 1229.3 626.1 1229.4 624.9 1229.4 623.7 1229.4 622.5 1229.4 621.3 1229.5 620.1 1229.5 618.9 1229.5 617.7 1229.5 616.5 1229.6 615.3 1229.6 614.1 1229.6 612.9 1229.6 611.7 1229.6 610.5 1229.7 609.3 1229.7 608.1 1229.7 606.9 1229.7 605.7 1229.7 604.5 1229.8 603.3 1229.8 602.1 1229.8 600.9 1229.8 599.7 1229.9 598.5 1229.9 597.3 1229.9 596.1 1229.9 594.9 1229.9 593.7 1230.0 592.5 1230.0 591.3 1230.0 590.1 1230.0 588.9 1230.0 587.7 1230.0 586.5 1230.1 585.3 1230.1 584.1 1230.1 582.9 1230.1 581.7 1230.1 580.5 1230.2 579.3 1230.2 578.1 1230.2 576.9 1230.2 575.7 1230.2 574.5 1230.3 573.3 1230.3 572.1 1230.3 570.9 1230.3 569.7 1230.3 568.5 1230.3 567.3 1230.4 566.1 1230.4 564.9 1230.4 563.7 1230.4 562.5 1230.4 561.3 1230.4 560.1 1230.5 558.9 1230.5 557.7 1230.5 556.5 1230.5 555.3 1230.5 554.1 1230.5 552.9 1230.6 551.7 1230.6 550.5 1230.6 549.3 1230.6 548.1 1230.6 546.9 1230.6 545.7 1230.6 544.5 1230.7 543.3 1230.7 542.1 1230.7 540.9 1230.7 539.7 1230.7 538.5 1230.7 537.3 1230.7 536.1 1230.8 534.9 1230.8 533.7 1230.8 532.5 1230.8 531.3 1230.8 530.1 1230.8 528.9 1230.8 527.7 1230.9 526.5 1230.9 525.3 1230.9 524.1 1230.9 522.9 1230.9 521.7 1230.9 520.5 1230.9 519.3 1231.0 518.1 1231.0 516.9 1231.0 515.7 1231.0 514.5 1231.0 513.3 1231.0 512.0 1231.0 510.8 1231.0 509.6 1231.1 508.4 1231.1 507.2 1231.1 506.0 1231.1 504.8 1231.1 503.6 1231.1 502.4 1231.1 501.2 1231.1 500.0 1231.1 498.8 1231.2 497.6 1231.2 496.4 1231.2 495.2 1231.2 494.0 1231.2 492.8 1231.2 491.6 1231.2 490.4 1231.2 489.2 1231.2 488.0 1231.3 486.8 1231.3 485.6 1231.3 484.4 1231.3 483.2 1231.3 482.0 1231.3 480.8 1231.3 479.6 1231.3 478.4 1231.3 477.2 1231.4 476.0 1231.4 474.8 1231.4 473.6 1231.4 472.4 1231.4 471.2 1231.4 470.0 1231.4 468.8 1231.4 467.6 1231.4 466.4 1231.4 465.2 1231.5 464.0 1231.5 462.8 1231.5 461.6 1231.5 460.4 1231.5 459.2 1231.5 458.0 1231.5 456.8 1231.5 455.6 1231.5 454.4 1231.5 453.2 1231.5 452.0 1231.5 450.8 1231.6 449.6 1231.6 448.4 1231.6 447.2 1231.6 446.0 1231.6 444.8 1231.6 443.6 1231.6 442.4 1231.6 441.2 1231.6 440.0 1231.6 438.8 1231.6 437.6 1231.6 436.4 1231.7 435.2 1231.7 434.0 1231.7 432.8 1231.7 431.6 1231.7 430.4 1231.7 429.2 1231.7 428.0 1231.7 426.8 1231.7 425.6 1231.7 424.4 1231.7 423.2 1231.7 422.0 1231.7 420.8 1231.8 419.6 1231.8 418.4 1231.8 417.2 1231.8 416.0 1231.8 414.8 1231.8 413.6 1231.8 412.4 1231.8 411.2 1231.8 410.0 1231.8 408.8 1231.8 407.6 1231.8 406.4 1231.8 405.2 1231.8 404.0 1231.9 402.8 1231.9 401.6 1231.9 400.4 1231.9 399.2 1231.9 398.0 1231.9 396.8 1231.9 395.6 1231.9 394.4 1231.9 393.2 1231.9 392.0 1231.9 390.8 1231.9 389.6 1231.9 388.4 1231.9 387.2 1231.9 386.0 1231.9 384.8 1232.0 383.6 1232.0 382.4 1232.0 381.2 1232.0 380.0 1232.0 378.7 1232.0 377.5 1232.0 376.3 1232.0 375.1 1232.0 373.9 1232.0 372.7 1232.0 371.5 1232.0 370.3 1232.0 369.1 1232.0 367.9 1232.0 366.7 1232.0 365.5 1232.0 364.3 1232.1 363.1 1232.1 361.9 1232.1 360.7 1232.1 359.5 1232.1 358.3 1232.1 357.1 1232.1 355.9 1232.1 354.7 1232.1 353.5 1232.1 352.3 1232.1 351.1 1232.1 349.9 1232.1 348.7 1232.1 347.5 1232.1 346.3 1232.1 345.1 1232.1 343.9 1232.1 342.7 1232.2 341.5 1232.2 340.3 1232.2 339.1 1232.2 337.9 1232.2 336.7 1232.2 335.5 1232.2 334.3 1232.2 333.1 1232.2 331.9 1232.2 330.7 1232.2 329.5 1232.2 328.3 1232.2 327.1 1232.2 325.9 1232.2 324.7 1232.2 323.5 1232.2 322.3 1232.2 321.1 1232.3 319.9 1232.3 318.7 1232.3 317.5 1232.3 316.3 1232.3 315.1 1232.3 313.9 1232.3 312.7 1232.3 311.5 1232.3 310.3 1232.3 309.1 1232.3 307.9 1232.3 306.7 1232.3 305.5 1232.3 304.3 1232.3 303.1 1232.3 301.9 1232.3 300.7 1232.3 299.5 1232.3 298.3 1232.4 297.1 1232.4 295.9 1232.4 294.7 1232.4 293.5 1232.4 292.3 1232.4 291.1 1232.4 289.9 1232.4 288.7 1232.4 287.5 1232.4 286.3 1232.4 285.1 1232.4 283.9 1232.4 282.7 1232.4 281.5 1232.4 280.3 1232.4 279.1 1232.4 277.9 1232.4 276.7 1232.5 275.5 1232.5 274.3 1232.5 273.1 1232.5 271.9 1232.5 270.7 1232.5 269.5 1232.5 268.3 1232.5 267.1 1232.5 265.9 1232.5 264.7 1232.5 263.5 1232.5 262.3 1232.5 261.1 1232.5 259.9 1232.5 258.7 1232.5 257.5 1232.5 256.3 1232.6 255.1 1232.6 253.9 1232.6 252.7 1232.6 251.5 1232.6 250.3 1232.6 249.1 1232.6 247.8 1232.6 246.6 1232.6 245.4 1232.6 244.2 1232.6 243.0 1232.6 241.8 1232.6 240.6 1232.6 239.4 1232.6 238.2 1232.7 237.0 1232.7 235.8 1232.7 234.6 1232.7 233.4 1232.7 232.2 1232.7 231.0 1232.7 229.8 1232.7 228.6 1232.7 227.4 1232.7 226.2 1232.7 225.0 1232.7 223.8 1232.7 222.6 1232.7 221.4 1232.7 220.2 1232.8 219.0 1232.8 217.8 1232.8 216.6 1232.8 215.4 1232.8 214.2 1232.8 213.0 1232.8 211.8 1232.8 210.6 1232.8 209.4 1232.8 208.2 1232.8 207.0 1232.8 205.8 1232.8 204.6 1232.9 203.4 1232.9 202.2 1232.9 201.0 1232.9 199.8 1232.9 198.6 1232.9 197.4 1232.9 196.2 1232.9 195.0 1232.9 193.8 1232.9 192.6 1232.9 191.4 1232.9 190.2 1233.0 189.0 1233.0 187.8 1233.0 186.6 1233.0 185.4 1233.0 184.2 1233.0 183.0 1233.0 184.2 1233.0 185.4 1233.1 186.6 1233.1 187.8 1233.1 189.0 1233.1 190.2 1233.1 191.4 1233.2 192.6 1233.2 193.8 1233.2 195.0 1233.2 196.2 1233.2 197.4 1233.2 198.6 1233.3 199.8 1233.3 201.0 1233.3 202.2 1233.3 203.4 1233.3 204.6 1233.3 205.8 1233.4 207.0 1233.4 208.2 1233.4 209.4 1233.4 210.6 1233.4 211.8 1233.5 213.0 1233.5 214.2 1233.5 215.4 1233.5 216.6 1233.5 217.8 1233.5 219.0 1233.5 220.2 1233.6 221.4 1233.6 222.6 1233.6 223.8 1233.6 225.0 1233.6 226.2 1233.6 227.4 1233.7 228.6 1233.7 229.8 1233.7 231.0 1233.7 232.2 1233.7 233.4 1233.7 234.6 1233.7 235.8 1233.8 237.0 1233.8 238.2 1233.8 239.4 1233.8 240.6 1233.8 241.8 1233.8 243.0 1233.8 244.2 1233.9 245.4 1233.9 246.7 1233.9 247.9 1233.9 249.1 1233.9 250.3 1233.9 251.5 1233.9 252.7 1234.0 253.9 1234.0 255.1 1234.0 256.3 1234.0 257.5 1234.0 258.7 1234.0 259.9 1234.0 261.1 1234.0 262.3 1234.1 263.5 1234.1 264.7 1234.1 265.9 1234.1 267.1 1234.1 268.3 1234.1 269.5 1234.1 270.7 1234.1 271.9 1234.2 273.1 1234.2 274.3 1234.2 275.5 1234.2 276.7 1234.2 277.9 1234.2 279.1 1234.2 280.3 1234.2 281.5 1234.2 282.7 1234.3 283.9 1234.3 285.1 1234.3 286.3 1234.3 287.5 1234.3 288.7 1234.3 289.9 1234.3 291.1 1234.3 292.3 1234.3 293.5 1234.4 294.7 1234.4 295.9 1234.4 297.1 1234.4 298.3 1234.4 299.5 1234.4 300.7 1234.4 301.9 1234.4 303.1 1234.4 304.3 1234.5 305.5 1234.5 306.7 1234.5 307.9 1234.5 309.1 1234.5 310.3 1234.5 311.5 1234.5 312.7 1234.5 313.9 1234.5 315.1 1234.5 316.3 1234.6 317.5 1234.6 318.7 1234.6 319.9 1234.6 321.1 1234.6 322.3 1234.6 323.5 1234.6 324.7 1234.6 325.9 1234.6 327.1 1234.6 328.3 1234.6 329.5 1234.7 330.7 1234.7 331.9 1234.7 333.1 1234.7 334.3 1234.7 335.5 1234.7 336.7 1234.7 337.9 1234.7 339.1 1234.7 340.3 1234.7 341.5 1234.7 342.7 1234.8 343.9 1234.8 345.1 1234.8 346.3 1234.8 347.5 1234.8 348.7 1234.8 349.9 1234.8 351.1 1234.8 352.3 1234.8 353.5 1234.8 354.7 1234.8 355.9 1234.8 357.1 1234.9 358.3 1234.9 359.5 1234.9 360.7 1234.9 361.9 1234.9 363.1 1234.9 364.4 1234.9 365.6 1234.9 366.8 1234.9 368.0 1234.9 369.2 1234.9 370.4 1234.9 371.6 1235.0 372.8 1235.0 374.0 1235.0 375.2 1235.0 376.4 1235.0 377.6 1235.0 378.8 1235.0 380.0 1235.0 381.2 1235.0 382.4 1235.0 383.6 1235.0 384.8 1235.0 386.0 1235.1 387.2 1235.1 388.4 1235.1 389.6 1235.1 390.8 1235.1 392.0 1235.1 393.2 1235.1 394.4 1235.1 395.6 1235.1 396.8 1235.1 398.0 1235.1 399.2 1235.1 400.4 1235.1 401.6 1235.2 402.8 1235.2 404.0 1235.2 405.2 1235.2 406.4 1235.2 407.6 1235.2 408.8 1235.2 410.0 1235.2 411.2 1235.2 412.4 1235.2 413.6 1235.2 414.8 1235.2 416.0 1235.2 417.2 1235.3 418.4 1235.3 419.6 1235.3 420.8 1235.3 422.0 1235.3 423.2 1235.3 424.4 1235.3 425.6 1235.3 426.8 1235.3 428.0 1235.3 429.2 1235.3 430.4 1235.3 431.6 1235.4 432.8 1235.4 434.0 1235.4 435.2 1235.4 436.4 1235.4 437.6 1235.4 438.8 1235.4 440.0 1235.4 441.2 1235.4 442.4 1235.4 443.6 1235.4 444.8 1235.4 446.0 1235.5 447.2 1235.5 448.4 1235.5 449.6 1235.5 450.8 1235.5 452.0 1235.5 453.2 1235.5 454.4 1235.5 455.6 1235.5 456.8 1235.5 458.0 1235.5 459.2 1235.5 460.4 1235.6 461.6 1235.6 462.8 1235.6 464.0 1235.6 465.2 1235.6 466.4 1235.6 467.6 1235.6 468.8 1235.6 470.0 1235.6 471.2 1235.6 472.4 1235.6 473.6 1235.7 474.8 1235.7 476.0 1235.7 477.2 1235.7 478.4 1235.7 479.7 1235.7 480.9 1235.7 482.1 1235.7 483.3 1235.7 484.5 1235.7 485.7 1235.7 486.9 1235.8 488.1 1235.8 489.3 1235.8 490.5 1235.8 491.7 1235.8 492.9 1235.8 494.1 1235.8 495.3 1235.8 496.5 1235.8 497.7 1235.8 498.9 1235.9 500.1 1235.9 501.3 1235.9 502.5 1235.9 503.7 1235.9 504.9 1235.9 506.1 1235.9 507.3 1235.9 508.5 1235.9 509.7 1235.9 510.9 1236.0 512.1 1236.0 513.3 1236.0 514.5 1236.0 515.7 1236.0 516.9 1236.0 518.1 1236.0 519.3 1236.0 520.5 1236.0 521.7 1236.1 522.9 1236.1 524.1 1236.1 525.3 1236.1 526.5 1236.1 527.7 1236.1 528.9 1236.1 530.1 1236.1 531.3 1236.2 532.5 1236.2 533.7 1236.2 534.9 1236.2 536.1 1236.2 537.3 1236.2 538.5 1236.2 539.7 1236.2 540.9 1236.3 542.1 1236.3 543.3 1236.3 544.5 1236.3 545.7 1236.3 546.9 1236.3 548.1 1236.3 549.3 1236.3 550.5 1236.4 551.7 1236.4 552.9 1236.4 554.1 1236.4 555.3 1236.4 556.5 1236.4 557.7 1236.4 558.9 1236.5 560.1 1236.5 561.3 1236.5 562.5 1236.5 563.7 1236.5 564.9 1236.5 566.1 1236.5 567.3 1236.6 568.5 1236.6 569.7 1236.6 570.9 1236.6 572.1 1236.6 573.3 1236.6 574.5 1236.6 575.7 1236.7 576.9 1236.7 578.1 1236.7 579.3 1236.7 580.5 1236.7 581.7 1236.7 582.9 1236.8 584.1 1236.8 585.3 1236.8 586.5 1236.8 587.7 1236.8 588.9 1236.8 590.1 1236.8 591.3 1236.9 592.5 1236.9 593.7 1236.9 594.9 1236.9 596.1 1236.9 597.3 1237.0 598.5 1237.0 599.8 1237.0 601.0 1237.0 602.2 1237.0 603.4 1237.0 604.6 1237.1 605.8 1237.1 607.0 1237.1 608.2 1237.1 609.4 1237.1 610.6 1237.1 611.8 1237.2 613.0 1237.2 614.2 1237.2 615.4 1237.2 616.6 1237.2 617.8 1237.3 619.0 1237.3 620.2 1237.3 621.4 1237.3 622.6 1237.3 623.8 1237.4 625.0 1237.4 626.2 1237.4 627.4 1237.4 628.6 1237.4 629.8 1237.5 631.0 1237.5 632.2 1237.5 633.4 1237.5 634.6 1237.5 635.8 1237.6 637.0 1237.6 638.2 1237.6 639.4 1237.6 640.6 1237.7 641.8 1237.7 643.0 1237.7 644.2 1237.7 645.4 1237.7 646.6 1237.8 647.8 1237.8 649.0 1237.8 650.2 1237.8 651.4 1237.9 652.6 1237.9 653.8 1237.9 655.0 1237.9 656.2 1237.9 657.4 1238.0 658.6 1238.0 659.8 1238.0 661.0 1238.0 662.2 1238.1 663.4 1238.1 664.6 1238.1 665.8 1238.1 667.0 1238.2 668.2 1238.2 669.4 1238.2 670.6 1238.2 671.8 1238.3 673.0 1238.3 674.2 1238.3 675.4 1238.3 676.6 1238.4 677.8 1238.4 679.0 1238.4 680.2 1238.5 681.4 1238.5 682.6 1238.5 683.8 1238.5 685.0 1238.6 686.2 1238.6 687.4 1238.6 688.6 1238.6 689.8 1238.7 691.0 1238.7 692.2 1238.7 693.4 1238.8 694.6 1238.8 695.8 1238.8 697.0 1238.8 698.2 1238.9 699.4 1238.9 700.6 1238.9 701.8 1239.0 703.0 1239.0 704.2 1239.0 705.4 1239.1 706.6 1239.1 707.8 1239.1 709.0 1239.1 710.2 1239.2 711.4 1239.2 712.6 1239.2 713.8 1239.3 715.0 1239.3 716.2 1239.3 717.4 1239.4 718.6 1239.4 719.8 1239.4 721.0 1239.5 722.2 1239.5 723.4 1239.5 724.6 1239.6 725.8 1239.6 727.0 1239.6 728.2 1239.7 729.4 1239.7 730.6 1239.7 731.8 1239.8 733.0 1239.8 734.2 1239.8 735.4 1239.9 736.6 1239.9 737.8 1239.9 739.0 1240.0 740.2 1240.0 741.4 1240.1 742.6 1240.1 743.8 1240.1 745.0 1240.2 746.2 1240.2 747.4 1240.2 748.6 1240.3 749.8 1240.3 751.0 1240.4 752.2 1240.4 753.4 1240.4 754.6 1240.5 755.8 1240.5 757.0 1240.5 758.2 1240.6 759.4 1240.6 760.7 1240.7 761.9 1240.7 763.1 1240.7 764.3 1240.8 765.5 1240.8 766.7 1240.9 767.9 1240.9 769.1 1240.9 770.3 1241.0 771.5 1241.0 772.7 1241.1 773.9 1241.1 775.1 1241.1 776.3 1241.2 777.5 1241.2 778.7 1241.3 779.9 1241.3 781.1 1241.4 782.3 1241.4 783.5 1241.4 784.7 1241.5 785.9 1241.5 787.1 1241.6 788.3 1241.6 789.5 1241.7 790.7 1241.7 791.9 1241.8 793.1 1241.8 794.3 1241.8 795.5 1241.9 796.7 1241.9 797.9 1242.0 799.1 1242.0 800.3 1242.1 801.5 1242.1 802.7 1242.2 803.9 1242.2 805.1 1242.3 806.3 1242.3 807.5 1242.4 808.7 1242.4 809.9 1242.5 811.1 1242.5 812.3 1242.6 813.5 1242.6 814.7 1242.7 815.9 1242.7 817.1 1242.8 818.3 1242.8 819.5 1242.9 820.7 1242.9 821.9 1243.0 823.1 1243.0 824.3 1243.1 825.5 1243.1 826.7 1243.2 827.9 1243.2 829.1 1243.3 830.3 1243.3 831.5 1243.4 832.7 1243.4 833.9 1243.5 835.1 1243.5 836.3 1243.6 837.5 1243.6 838.7 1243.7 839.9 1243.8 841.1 1243.8 842.3 1243.9 843.5 1243.9 844.7 1244.0 845.9 1244.0 847.1 1244.1 848.3 1244.1 849.5 1244.2 850.7 1244.3 851.9 1244.3 853.1 1244.4 854.3 1244.4 855.5 1244.5 856.7 1244.5 857.9 1244.6 859.1 1244.7 860.3 1244.7 861.5 1244.8 862.7 1244.8 863.9 1244.9 865.1 1245.0 866.3 1245.0 867.5 1245.1 868.7 1245.1 869.9 1245.2 871.1 1245.3 872.3 1245.3 873.5 1245.4 874.7 1245.5 875.8 1245.5 877.0 1245.6 878.2 1245.6 879.4 1245.7 880.6 1245.8 881.8 1245.8 883.0 1245.9 884.2 1246.0 885.4 1246.0 886.6 1246.1 887.8 1246.2 889.0 1246.2 890.2 1246.3 891.4 1246.4 892.6 1246.4 893.8 1246.5 895.0 1246.6 896.2 1246.6 897.4 1246.7 898.6 1246.8 899.8 1246.8 901.0 1246.9 902.2 1247.0 903.4 1247.0 904.6 1247.1 905.8 1247.2 907.0 1247.3 908.2 1247.3 909.4 1247.4 910.6 1247.5 911.8 1247.5 913.0 1247.6 914.2 1247.7 915.4 1247.7 916.6 1247.8 917.8 1247.9 919.0 1248.0 920.2 1248.0 921.4 1248.1 922.6 1248.2 923.8 1248.3 925.0 1248.3 926.2 1248.4 927.4 1248.5 928.6 1248.6 929.8 1248.6 931.0 1248.7 932.2 1248.8 933.4 1248.9 934.6 1248.9 935.8 1249.0 937.0 1249.1 938.2 1249.2 939.4 1249.3 940.6 1249.3 941.8 1249.4 943.0 1249.5 944.2 1249.6 945.4 1249.7 946.6 1249.7 947.8 1249.8 949.0 1249.9 950.2 1250.0 951.4 1250.1 952.6 1250.1 953.8 1250.2 955.0 1250.3 956.2 1250.4 957.4 1250.5 958.6 1250.6 959.8 1250.6 961.0 1250.7 962.2 1250.8 963.4 1250.9 964.6 1251.0 965.8 1251.1 967.0 1251.2 968.2 1251.2 969.4 1251.3 970.6 1251.4 971.7 1251.5 972.9 1251.6 974.1 1251.7 975.3 1251.8 976.5 1251.9 977.7 1251.9 978.9 1252.0 980.1 1252.1 981.3 1252.2 982.5 1252.3 983.7 1252.4 984.9 1252.5 986.1 1252.6 987.3 1252.7 988.5 1252.8 989.7 1252.9 990.9 1253.0 992.1 1253.1 993.3 1253.2 994.5 1253.3 995.7 1253.4 996.9 1253.5 998.1 1253.6 999.3 1253.7 1000.5 1253.8 1001.7 1253.9 1002.9 1254.0 1004.1 1254.1 1005.3 1254.2 1006.5 1254.3 1007.7 1254.4 1008.9 1254.5 1010.1 1254.6 1011.3 1254.8 1012.4 1254.9 1013.6 1255.0 1014.8 1255.1 1016.0 1255.2 1017.2 1255.3 1018.4 1255.4 1019.6 1255.6 1020.8 1255.7 1022.0 1255.8 1023.2 1255.9 1024.4 1256.1 1025.6 1256.2 1026.8 1256.3 1028.0 1256.4 1029.2 1256.6 1030.4 1256.7 1031.6 1256.8 1032.8 1257.0 1034.0 1257.1 1035.1 1257.2 1036.3 1257.4 1037.5 1257.5 1038.7 1257.7 1039.9 1257.8 1041.1 1258.0 1042.3 1258.1 1043.5 1258.2 1044.7 1258.4 1045.9 1258.5 1047.1 1258.7 1048.3 1258.9 1049.5 1259.0 1050.6 1259.2 1051.8 1259.3 1053.0 1259.5 1054.2 1259.6 1055.4 1259.8 1056.6 1260.0 1057.8 1260.1 1059.0 1260.3 1060.2 1260.5 1061.4 1260.7 1062.5 1260.8 1063.7 1261.0 1064.9 1261.2 1066.1 1261.4 1067.3 1261.5 1068.5 1261.7 1069.7 1261.9 1070.9 1262.1 1072.0 1262.3 1073.2 1262.5 1074.4 1262.7 1075.6 1262.9 1076.8 1263.1 1078.0 1263.3 1079.1 1263.5 1080.3 1263.7 1081.5 1263.9 1082.7 1264.1 1083.9 1264.3 1085.1 1264.5 1086.2 1264.7 1087.4 1265.0 1088.6 1265.2 1089.8 1265.4 1091.0 1265.6 1092.2 1265.9 1093.3 1266.1 1094.5 1266.3 1095.7 1266.5 1096.9 1266.8 1098.0 1267.0 1099.2 1267.3 1100.4 1267.5 1101.6 1267.7 1102.8 1268.0 1103.9 1268.2 1105.1 1268.5 1106.3 1268.7 1107.5 1269.0 1108.6 1269.2 1109.8 1269.5 1111.0 1269.8 1112.1 1270.0 1113.3 1270.3 1114.5 1270.5 1115.7 1270.8 1116.8 1271.1 1118.0 1271.4 1119.2 1271.6 1120.3 1271.9 1121.5 1272.2 1122.7 1272.4 1123.9 1272.7 1125.0 1273.0 1126.2 1273.3 1127.4 1273.6 1128.5 1273.8 1129.7 1274.1 1130.9 1274.4 1132.0 1274.7 1133.2 1275.0 1134.4 1275.3 1135.5 1275.5 1136.7 1275.8 1137.9 1276.1 1139.0 1276.4 1140.2 1276.7 1141.4 1277.0 1142.5 1277.3 1143.7 1277.6 1144.8 1277.9 1146.0 1278.2 1147.2 1278.5 1148.3 1278.8 1149.5 1279.1 1150.7 1279.4 1151.8 1279.7 1153.0 1280.0 1154.2 1280.3 1155.3 1280.6 1156.5 1280.9 1157.6 1281.3 1158.8 1281.6 1159.9 1282.0 1161.1 1282.3 1162.2 1282.7 1163.4 1283.1 1164.5 1283.4 1165.7 1283.8 1166.8 1284.3 1167.9 1284.7 1169.0 1285.1 1170.1 1285.6 1171.3 1286.1 1172.4 1286.6 1173.4 1287.1 1174.5 1287.6 1175.6 1288.2 1176.7 1288.8 1177.7 1289.4 1178.8 1290.0 1179.8 1290.7 1180.8 1291.3 1181.8 1292.0 1182.8 1292.8 1183.7 1293.5 1184.6 1294.3 1185.6 1295.1 1186.5 1295.9 1187.3 1296.8 1188.2 1297.7 1189.0 1298.6 1189.8 1299.5 1190.5 1300.4 1191.3 1301.4 1192.0 1302.4 1192.7 1303.4 1193.3 1304.4 1193.9 1305.5 1194.5 1306.6 1195.1 1307.6 1195.6 1308.7 1196.1 1309.9 1196.5 1311.0 1196.9 1312.1 1197.3 1313.3 1197.6 1314.5 1197.8 1315.7 1198.1 1316.9 1198.2 1318.0 1198.3 1319.2 1198.3 1320.4 1198.3 1321.6 1198.3 1322.8 1198.2 1324.0 1198.0 1325.2 1197.8 1326.4 1197.6 1327.6 1197.3 1328.7 1197.0 1329.9 1196.6 1331.0 1196.2 1332.1 1195.8 1333.2 1195.4 1334.3 1194.9 1335.4 1194.4 1336.5 1193.9 1337.6 1193.3 1338.7 1192.7 1339.7 1192.2 1340.7 1191.5 1341.8 1190.9 1342.8 1190.3 1343.8 1189.6 1344.7 1188.9 1345.7 1188.2 1346.7 1187.5 1347.6 1186.7 1348.5 1186.0 1349.5 1185.2 1350.4 1184.4 1351.3 1183.6 1352.1 1182.8 1353.0 1181.9 1353.8 1181.1 1354.7 1180.2 1355.5 1179.3 1356.3 1178.4 1357.1 1177.5 1357.9 1176.6 1358.6 1175.7 1359.4 1174.8 1360.1 1173.8 1360.8 1172.9 1361.6 1171.9 1362.3 1170.9 1363.0 1169.9 1363.6 1168.9 1364.3 1167.9 1365.0 1166.9 1365.6 1165.9 1366.2 1164.9 1366.9 1163.9 1367.5 1162.8 1368.1 1161.8 1368.7 1160.8 1369.2 1159.7 1369.8 1158.7 1370.4 1157.6 1370.9 1156.5 1371.5 1155.5 1372.0 1154.4 1372.6 1153.3 1373.1 1152.2 1373.6 1151.2 1374.1 1150.1 1374.6 1149.0 1375.1 1147.9 1375.6 1146.8 1376.1 1145.7 1376.6 1144.6 1377.0 1143.5 1377.5 1142.4 1378.0 1141.3 1378.4 1140.1 1378.9 1139.0 1379.3 1137.9 1379.7 1136.8 1380.2 1135.7 1380.6 1134.6 1381.0 1133.4 1381.5 1132.3 1381.9 1131.2 1382.3 1130.1 1382.7 1128.9 1383.1 1127.8 1383.5 1126.7 1383.9 1125.5 1384.3 1124.4 1384.7 1123.3 1385.1 1122.1 1385.4 1121.0 1385.8 1119.8 1386.2 1118.7 1386.6 1117.6 1386.9 1116.4 1387.3 1115.3 1387.6 1114.1 1388.0 1113.0 1388.3 1111.8 1388.7 1110.7 1389.0 1109.5 1389.4 1108.4 1389.7 1107.2 1390.0 1106.1 1390.4 1104.9 1390.7 1103.8 1391.0 1102.6 1391.4 1101.4 1391.7 1100.3 1392.0 1099.1 1392.3 1098.0 1392.6 1096.8 1392.9 1095.6 1393.2 1094.5 1393.5 1093.3 1393.8 1092.2 1394.1 1091.0 1394.4 1089.8 1394.7 1088.7 1395.0 1087.5 1395.3 1086.3 1395.6 1085.2 1395.9 1084.0 1396.2 1082.8 1396.4 1081.7 1396.7 1080.5 1397.0 1079.3 1397.3 1078.2 1397.6 1077.0 1397.8 1075.8 1398.1 1074.7 1398.4 1073.5 1398.6 1072.3 1398.9 1071.1 1399.2 1070.0 1399.5 1068.8 1399.7 1067.6 1400.0 1066.5 1400.2 1065.3 1400.5 1064.1 1400.8 1062.9 1401.0 1061.8 1401.3 1060.6 1401.5 1059.4 1401.8 1058.2 1402.0 1057.1 1402.3 1055.9 1402.5 1054.7 1402.8 1053.6 1403.0 1052.4 1403.3 1051.2 1403.5 1050.0 1403.8 1048.8 1404.0 1047.7 1404.3 1046.5 1404.5 1045.3 1404.7 1044.1 1405.0 1043.0 1405.2 1041.8 1405.5 1040.6 1405.7 1039.4 1405.9 1038.3 1406.1 1037.1 1406.4 1035.9 1406.6 1034.7 1406.8 1033.5 1407.1 1032.4 1407.3 1031.2 1407.5 1030.0 1407.7 1028.8 1408.0 1027.6 1408.2 1026.5 1408.4 1025.3 1408.6 1024.1 1408.8 1022.9 1409.1 1021.7 1409.3 1020.6 1409.5 1019.4 1409.7 1018.2 1409.9 1017.0 1410.1 1015.8 1410.3 1014.6 1410.5 1013.5 1410.7 1012.3 1411.0 1011.1 1411.2 1009.9 1411.4 1008.7 1411.6 1007.5 1411.8 1006.4 1412.0 1005.2 1412.2 1004.0 1412.4 1002.8 1412.6 1001.6 1412.8 1000.4 1413.0 999.3 1413.2 998.1 1413.3 996.9 1413.5 995.7 1413.7 994.5 1413.9 993.3 1414.1 992.1 1414.3 991.0 1414.5 989.8 1414.7 988.6 1414.9 987.4 1415.0 986.2 1415.2 985.0 1415.4 983.8 1415.6 982.6 1415.8 981.5 1416.0 980.3 1416.1 979.1 1416.3 977.9 1416.5 976.7 1416.7 975.5 1416.8 974.3 1417.0 973.1 1417.2 972.0 1417.4 970.8 1417.5 969.6 1417.7 968.4 1417.9 967.2 1418.0 966.0 1418.2 964.8 1418.4 963.6 1418.5 962.4 1418.7 961.2 1418.9 960.1 1419.0 958.9 1419.2 957.7 1419.3 956.5 1419.5 955.3 1419.7 954.1 1419.8 952.9 1420.0 951.7 1420.1 950.5 1420.3 949.3 1420.4 948.2 1420.6 947.0 1420.7 945.8 1420.9 944.6 1421.0 943.4 1421.2 942.2 1421.3 941.0 1421.5 939.8 1421.6 938.6 1421.8 937.4 1421.9 936.2 1422.1 935.0 1422.2 933.9 1422.4 932.7 1422.5 931.5 1422.7 930.3 1422.8 929.1 1422.9 927.9 1423.1 926.7 1423.2 925.5 1423.4 924.3 1423.5 923.1 1423.6 921.9 1423.8 920.7 1423.9 919.5 1424.0 918.3 1424.2 917.1 1424.3 916.0 1424.4 914.8 1424.6 913.6 1424.7 912.4 1424.8 911.2 1425.0 910.0 1425.1 908.8 1425.2 907.6 1425.3 906.4 1425.5 905.2 1425.6 904.0 1425.7 902.8 1425.8 901.6 1426.0 900.4 1426.1 899.2 1426.2 898.0 1426.3 896.8 1426.5 895.7 1426.6 894.5 1426.7 893.3 1426.8 892.1 1426.9 890.9 1427.1 889.7 1427.2 888.5 1427.3 887.3 1427.4 886.1 1427.5 884.9 1427.6 883.7 1427.8 882.5 1427.9 881.3 1428.0 880.1 1428.1 878.9 1428.2 877.7 1428.3 876.5 1428.4 875.3 1428.5 874.1 1428.7 872.9 1428.8 871.7 1428.9 870.5 1429.0 869.3 1429.1 868.2 1429.2 867.0 1429.3 865.8 1429.4 864.6 1429.5 863.4 1429.6 862.2 1429.7 861.0 1429.8 859.8 1429.9 858.6 1430.0 857.4 1430.1 856.2 1430.2 855.0 1430.3 853.8 1430.4 852.6 1430.5 851.4 1430.6 850.2 1430.7 849.0 1430.8 847.8 1430.9 846.6 1431.0 845.4 1431.1 844.2 1431.2 843.0 1431.3 841.8 1431.4 840.6 1431.5 839.4 1431.6 838.2 1431.7 837.0 1431.8 835.8 1431.9 834.6 1432.0 833.4 1432.0 832.2 1432.1 831.0 1432.2 829.8 1432.3 828.6 1432.4 827.4 1432.5 826.3 1432.6 825.1 1432.7 823.9 1432.8 822.7 1432.8 821.5 1432.9 820.3 1433.0 819.1 1433.1 817.9 1433.2 816.7 1433.3 815.5 1433.4 814.3 1433.4 813.1 1433.5 811.9 1433.6 810.7 1433.7 809.5 1433.8 808.3 1433.8 807.1 1433.9 805.9 1434.0 804.7 1434.1 803.5 1434.2 802.3 1434.2 801.1 1434.3 799.9 1434.4 798.7 1434.5 797.5 1434.6 796.3 1434.6 795.1 1434.7 793.9 1434.8 792.7 1434.9 791.5 1434.9 790.3 1435.0 789.1 1435.1 787.9 1435.2 786.7 1435.2 785.5 1435.3 784.3 1435.4 783.1 1435.4 781.9 1435.5 780.7 1435.6 779.5 1435.7 778.3 1435.7 777.1 1435.8 775.9 1435.9 774.7 1435.9 773.5 1436.0 772.3 1436.1 771.1 1436.1 769.9 1436.2 768.7 1436.3 767.5 1436.3 766.3 1436.4 765.1 1436.5 763.9 1436.5 762.7 1436.6 761.5 1436.7 760.3 1436.7 759.1 1436.8 757.9 1436.9 756.7 1436.9 755.5 1437.0 754.3 1437.0 753.1 1437.1 751.9 1437.2 750.7 1437.2 749.5 1437.3 748.3 1437.4 747.1 1437.4 745.9 1437.5 744.7 1437.5 743.5 1437.6 742.3 1437.7 741.1 1437.7 739.9 1437.8 738.7 1437.8 737.5 1437.9 736.3 1437.9 735.1 1438.0 733.9 1438.1 732.7 1438.1 731.5 1438.2 730.3 1438.2 729.1 1438.3 727.9 1438.3 726.7 1438.4 725.5 1438.4 724.3 1438.5 723.1 1438.6 721.9 1438.6 720.7 1438.7 719.5 1438.7 718.3 1438.8 717.1 1438.8 715.9 1438.9 714.7 1438.9 713.5 1439.0 712.3 1439.0 711.1 1439.1 709.9 1439.1 708.7 1439.2 707.5 1439.2 706.3 1439.3 705.1 1439.3 703.9 1439.4 702.7 1439.4 701.5 1439.5 700.3 1439.5 699.1 1439.6 697.9 1439.6 696.7 1439.7 695.5 1439.7 694.3 1439.8 693.1 1439.8 691.9 1439.9 690.7 1439.9 689.5 1440.0 688.3 1440.0 687.1 1440.1 685.9 1440.1 684.7 1440.2 683.5 1440.2 682.3 1440.2 681.1 1440.3 679.9 1440.3 678.7 1440.4 677.5 1440.4 676.3 1440.5 675.1 1440.5 673.9 1440.6 672.7 1440.6 671.5 1440.6 670.3 1440.7 669.1 1440.7 667.9 1440.8 666.7 1440.8 665.5 1440.9 664.3 1440.9 663.1 1440.9 661.9 1441.0 660.7 1441.0 659.5 1441.1 658.3 1441.1 657.1 1441.2 655.9 1441.2 654.7 1441.2 653.5 1441.3 652.3 1441.3 651.1 1441.4 649.9 1441.4 648.7 1441.4 647.5 1441.5 646.3 1441.5 645.1 1441.6 643.9 1441.6 642.7 1441.6 641.5 1441.7 640.3 1441.7 639.1 1441.8 637.9 1441.8 636.7 1441.8 635.5 1441.9 634.3 1441.9 633.1 1442.0 631.9 1442.0 630.7 1442.0 629.5 1442.1 628.3 1442.1 627.1 1442.2 625.9 1442.2 624.7 1442.2 623.5 1442.3 622.3 1442.3 621.1 1442.3 619.9 1442.4 618.7 1442.4 617.5 1442.5 616.3 1442.5 615.1 1442.5 613.9 1442.6 612.7 1442.6 611.5 1442.6 610.3 1442.7 609.1 1442.7 607.9 1442.7 606.7 1442.8 605.5 1442.8 604.3 1442.8 603.1 1442.9 601.9 1442.9 600.7 1443.0 599.5 1443.0 598.3 1443.0 597.1 1443.1 595.9 1443.1 594.7 1443.1 593.5 1443.2 592.3 1443.2 591.1 1443.2 589.9 1443.3 588.7 1443.3 587.5 1443.3 586.3 1443.4 585.1 1443.4 583.9 1443.4 582.7 1443.5 581.5 1443.5 580.3 1443.5 579.1 1443.6 577.9 1443.6 576.7 1443.6 575.5 1443.7 574.3 1443.7 573.1 1443.7 571.9 1443.8 570.7 1443.8 569.5 1443.8 568.3 1443.8 567.1 1443.9 565.9 1443.9 564.7 1443.9 563.5 1444.0 562.3 1444.0 561.1 1444.0 559.9 1444.1 558.7 1444.1 557.5 1444.1 556.3 1444.2 555.1 1444.2 553.9 1444.2 552.7 1444.3 551.5 1444.3 550.3 1444.3 549.1 1444.3 547.9 1444.4 546.7 1444.4 545.5 1444.4 544.3 1444.5 543.1 1444.5 541.9 1444.5 540.7 1444.6 539.5 1444.6 538.3 1444.6 537.1 1444.6 535.9 1444.7 534.7 1444.7 533.5 1444.7 532.3 1444.8 531.1 1444.8 529.9 1444.8 528.7 1444.8 527.5 1444.9 526.3 1444.9 525.1 1444.9 523.9 1445.0 522.7 1445.0 521.5 1445.0 520.3 1445.0 519.1 1445.1 517.9 1445.1 516.7 1445.1 515.5 1445.2 514.3 1445.2 513.1 1445.2 511.9 1445.2 510.7 1445.3 509.5 1445.3 508.3 1445.3 507.1 1445.4 505.9 1445.4 504.7 1445.4 503.5 1445.4 502.3 1445.5 501.1 1445.5 499.9 1445.5 498.7 1445.5 497.5 1445.6 496.3 1445.6 495.1 1445.6 493.8 1445.7 492.6 1445.7 491.4 1445.7 490.2 1445.7 489.0 1445.8 487.8 1445.8 486.6 1445.8 485.4 1445.8 484.2 1445.9 483.0 1445.9 481.8 1445.9 480.6 1446.0 479.4 1446.0 478.2 1446.0 477.0 1446.0 475.8 1446.1 474.6 1446.1 473.4 1446.1 472.2 1446.1 471.0 1446.2 469.8 1446.2 468.6 1446.2 467.4 1446.2 466.2 1446.3 465.0 1446.3 463.8 1446.3 462.6 1446.3 461.4 1446.4 460.2 1446.4 459.0 1446.4 457.8 1446.5 456.6 1446.5 455.4 1446.5 454.2 1446.5 453.0 1446.6 451.8 1446.6 450.6 1446.6 449.4 1446.6 448.2 1446.7 447.0 1446.7 445.8 1446.7 444.6 1446.7 443.4 1446.8 442.2 1446.8 441.0 1446.8 439.8 1446.8 438.6 1446.9 437.4 1446.9 436.2 1446.9 435.0 1446.9 433.8 1447.0 432.6 1447.0 431.4 1447.0 430.2 1447.0 429.0 1447.1 427.8 1447.1 426.6 1447.1 425.4 1447.2 424.2 1447.2 423.0 1447.2 421.8 1447.2 420.6 1447.3 419.4 1447.3 418.2 1447.3 417.0 1447.3 415.8 1447.4 414.6 1447.4 413.4 1447.4 412.2 1447.4 411.0 1447.5 409.8 1447.5 408.6 1447.5 407.4 1447.5 406.2 1447.6 405.0 1447.6 403.8 1447.6 402.6 1447.6 401.4 1447.7 400.2 1447.7 399.0 1447.7 397.8 1447.7 396.6 1447.8 395.4 1447.8 394.2 1447.8 393.0 1447.9 391.8 1447.9 390.6 1447.9 389.4 1447.9 388.2 1448.0 387.0 1448.0 385.8 1448.0 384.6 1448.0 383.4 1448.1 382.2 1448.1 381.0 1448.1 379.8 1448.1 378.6 1448.2 377.4 1448.2 376.2 1448.2 375.0 1448.3 373.8 1448.3 372.6 1448.3 371.4 1448.3 370.2 1448.4 369.0 1448.4 367.8 1448.4 366.6 1448.4 365.4 1448.5 364.2 1448.5 363.0 1448.5 361.8 1448.5 360.6 1448.6 359.4 1448.6 358.2 1448.6 357.0 1448.7 355.8 1448.7 354.6 1448.7 353.4 1448.7 352.2 1448.8 351.0 1448.8 349.8 1448.8 348.6 1448.9 347.4 1448.9 346.2 1448.9 345.0 1448.9 343.8 1449.0 342.6 1449.0 341.4 1449.0 340.2 1449.1 338.9 1449.1 337.7 1449.1 336.5 1449.1 335.3 1449.2 334.1 1449.2 332.9 1449.2 331.7 1449.3 330.5 1449.3 329.3 1449.3 328.1 1449.3 326.9 1449.4 325.7 1449.4 324.5 1449.4 323.3 1449.5 322.1 1449.5 320.9 1449.5 319.7 1449.5 318.5 1449.6 317.3 1449.6 316.1 1449.6 314.9 1449.7 313.7 1449.7 312.5 1449.7 311.3 1449.8 310.1 1449.8 308.9 1449.8 307.7 1449.8 306.5 1449.9 305.3 1449.9 304.1 1449.9 302.9 1450.0 301.7 1450.0 300.5 1450.0 299.3 1450.1 298.1 1450.1 296.9 1450.1 295.7 1450.2 294.5 1450.2 293.3 1450.2 292.1 1450.2 290.9 1450.3 289.7 1450.3 288.5 1450.3 287.3 1450.4 286.1 1450.4 284.9 1450.4 283.7 1450.5 282.5 1450.5 281.3 1450.5 280.1 1450.6 278.9 1450.6 277.7 1450.6 276.5 1450.7 275.3 1450.7 274.1 1450.7 272.9 1450.8 271.7 1450.8 270.5 1450.8 269.3 1450.9 268.1 1450.9 266.9 1450.9 265.7 1451.0 264.5 1451.0 263.3 1451.0 262.1 1451.1 260.9 1451.1 259.7 1451.1 258.5 1451.2 257.3 1451.2 256.1 1451.3 254.9 1451.3 253.7 1451.3 252.5 1451.4 251.3 1451.4 250.1 1451.4 248.9 1451.5 247.7 1451.5 246.5 1451.5 247.7 1451.6 248.9 1451.6 250.1 1451.6 251.3 1451.7 252.5 1451.7 253.7 1451.7 254.9 1451.7 256.1 1451.8 257.3 1451.8 258.5 1451.8 259.7 1451.9 260.9 1451.9 262.1 1451.9 263.3 1451.9 264.5 1452.0 265.7 1452.0 266.9 1452.0 268.1 1452.1 269.3 1452.1 270.6 1452.1 271.8 1452.1 273.0 1452.2 274.2 1452.2 275.4 1452.2 276.6 1452.2 277.8 1452.3 279.0 1452.3 280.2 1452.3 281.4 1452.3 282.6 1452.4 283.8 1452.4 285.0 1452.4 286.2 1452.4 287.4 1452.5 288.6 1452.5 289.8 1452.5 291.0 1452.6 292.2 1452.6 293.4 1452.6 294.6 1452.6 295.8 1452.7 297.0 1452.7 298.2 1452.7 299.4 1452.7 300.6 1452.7 301.8 1452.8 303.0 1452.8 304.2 1452.8 305.4 1452.8 306.6 1452.9 307.8 1452.9 309.0 1452.9 310.2 1452.9 311.4 1453.0 312.6 1453.0 313.8 1453.0 315.0 1453.0 316.3 1453.1 317.5 1453.1 318.7 1453.1 319.9 1453.1 321.1 1453.1 322.3 1453.2 323.5 1453.2 324.7 1453.2 325.9 1453.2 327.1 1453.3 328.3 1453.3 329.5 1453.3 330.7 1453.3 331.9 1453.3 333.1 1453.4 334.3 1453.4 335.5 1453.4 336.7 1453.4 337.9 1453.5 339.1 1453.5 340.3 1453.5 341.5 1453.5 342.7 1453.5 343.9 1453.6 345.1 1453.6 346.3 1453.6 347.5 1453.6 348.7 1453.7 349.9 1453.7 351.1 1453.7 352.3 1453.7 353.5 1453.7 354.7 1453.8 355.9 1453.8 357.1 1453.8 358.3 1453.8 359.5 1453.8 360.8 1453.9 362.0 1453.9 363.2 1453.9 364.4 1453.9 365.6 1453.9 366.8 1454.0 368.0 1454.0 369.2 1454.0 370.4 1454.0 371.6 1454.0 372.8 1454.1 374.0 1454.1 375.2 1454.1 376.4 1454.1 377.6 1454.1 378.8 1454.2 380.0 1454.2 381.2 1454.2 382.4 1454.2 383.6 1454.2 384.8 1454.3 386.0 1454.3 387.2 1454.3 388.4 1454.3 389.6 1454.3 390.8 1454.4 392.0 1454.4 393.2 1454.4 394.4 1454.4 395.6 1454.4 396.8 1454.5 398.0 1454.5 399.2 1454.5 400.4 1454.5 401.6 1454.5 402.8 1454.6 404.0 1454.6 405.3 1454.6 406.5 1454.6 407.7 1454.6 408.9 1454.7 410.1 1454.7 411.3 1454.7 412.5 1454.7 413.7 1454.7 414.9 1454.8 416.1 1454.8 417.3 1454.8 418.5 1454.8 419.7 1454.8 420.9 1454.9 422.1 1454.9 423.3 1454.9 424.5 1454.9 425.7 1454.9 426.9 1455.0 428.1 1455.0 429.3 1455.0 430.5 1455.0 431.7 1455.0 432.9 1455.1 434.1 1455.1 435.3 1455.1 436.5 1455.1 437.7 1455.1 438.9 1455.2 440.1 1455.2 441.3 1455.2 442.5 1455.2 443.7 1455.2 444.9 1455.3 446.1 1455.3 447.3 1455.3 448.5 1455.3 449.8 1455.4 451.0 1455.4 452.2 1455.4 453.4 1455.4 454.6 1455.4 455.8 1455.5 457.0 1455.5 458.2 1455.5 459.4 1455.5 460.6 1455.5 461.8 1455.6 463.0 1455.6 464.2 1455.6 465.4 1455.6 466.6 1455.6 467.8 1455.7 469.0 1455.7 470.2 1455.7 471.4 1455.7 472.6 1455.8 473.8 1455.8 475.0 1455.8 476.2 1455.8 477.4 1455.8 478.6 1455.9 479.8 1455.9 481.0 1455.9 482.2 1455.9 483.4 1456.0 484.6 1456.0 485.8 1456.0 487.0 1456.0 488.2 1456.0 489.4 1456.1 490.6 1456.1 491.8 1456.1 493.0 1456.1 494.3 1456.2 495.5 1456.2 496.7 1456.2 497.9 1456.2 499.1 1456.3 500.3 1456.3 501.5 1456.3 502.7 1456.3 503.9 1456.4 505.1 1456.4 506.3 1456.4 507.5 1456.4 508.7 1456.5 509.9 1456.5 511.1 1456.5 512.3 1456.5 513.5 1456.6 514.7 1456.6 515.9 1456.6 517.1 1456.6 518.3 1456.7 519.5 1456.7 520.7 1456.7 521.9 1456.7 523.1 1456.8 524.3 1456.8 525.5 1456.8 526.7 1456.8 527.9 1456.9 529.1 1456.9 530.3 1456.9 531.5 1456.9 532.7 1457.0 533.9 1457.0 535.1 1457.0 536.3 1457.1 537.5 1457.1 538.7 1457.1 540.0 1457.1 541.2 1457.2 542.4 1457.2 543.6 1457.2 544.8 1457.3 546.0 1457.3 547.2 1457.3 548.4 1457.3 549.6 1457.4 550.8 1457.4 552.0 1457.4 553.2 1457.5 554.4 1457.5 555.6 1457.5 556.8 1457.5 558.0 1457.6 559.2 1457.6 560.4 1457.6 561.6 1457.7 562.8 1457.7 564.0 1457.7 565.2 1457.8 566.4 1457.8 567.6 1457.8 568.8 1457.9 570.0 1457.9 571.2 1457.9 572.4 1458.0 573.6 1458.0 574.8 1458.0 576.0 1458.1 577.2 1458.1 578.4 1458.1 579.6 1458.2 580.8 1458.2 582.0 1458.2 583.2 1458.3 584.4 1458.3 585.6 1458.3 586.8 1458.4 588.1 1458.4 589.3 1458.4 590.5 1458.5 591.7 1458.5 592.9 1458.5 594.1 1458.6 595.3 1458.6 596.5 1458.6 597.7 1458.7 598.9 1458.7 600.1 1458.7 601.3 1458.8 602.5 1458.8 603.7 1458.9 604.9 1458.9 606.1 1458.9 607.3 1459.0 608.5 1459.0 609.7 1459.0 610.9 1459.1 612.1 1459.1 613.3 1459.2 614.5 1459.2 615.7 1459.2 616.9 1459.3 618.1 1459.3 619.3 1459.4 620.5 1459.4 621.7 1459.4 622.9 1459.5 624.1 1459.5 625.3 1459.6 626.5 1459.6 627.7 1459.6 628.9 1459.7 630.1 1459.7 631.3 1459.8 632.5 1459.8 633.7 1459.9 634.9 1459.9 636.1 1459.9 637.3 1460.0 638.5 1460.0 639.7 1460.1 641.0 1460.1 642.2 1460.2 643.4 1460.2 644.6 1460.3 645.8 1460.3 647.0 1460.3 648.2 1460.4 649.4 1460.4 650.6 1460.5 651.8 1460.5 653.0 1460.6 654.2 1460.6 655.4 1460.7 656.6 1460.7 657.8 1460.8 659.0 1460.8 660.2 1460.9 661.4 1460.9 662.6 1461.0 663.8 1461.0 665.0 1461.1 666.2 1461.1 667.4 1461.2 668.6 1461.2 669.8 1461.3 671.0 1461.3 672.2 1461.4 673.4 1461.4 674.6 1461.5 675.8 1461.5 677.0 1461.6 678.2 1461.6 679.4 1461.7 680.6 1461.7 681.8 1461.8 683.0 1461.8 684.2 1461.9 685.4 1461.9 686.6 1462.0 687.8 1462.1 689.0 1462.1 690.2 1462.2 691.4 1462.2 692.6 1462.3 693.8 1462.3 695.0 1462.4 696.2 1462.4 697.4 1462.5 698.6 1462.6 699.8 1462.6 701.0 1462.7 702.2 1462.7 703.4 1462.8 704.6 1462.9 705.8 1462.9 707.0 1463.0 708.2 1463.0 709.5 1463.1 710.7 1463.2 711.9 1463.2 713.1 1463.3 714.3 1463.3 715.5 1463.4 716.7 1463.5 717.9 1463.5 719.1 1463.6 720.3 1463.7 721.5 1463.7 722.7 1463.8 723.9 1463.8 725.1 1463.9 726.3 1464.0 727.5 1464.0 728.7 1464.1 729.9 1464.2 731.1 1464.2 732.3 1464.3 733.5 1464.4 734.7 1464.4 735.9 1464.5 737.1 1464.6 738.3 1464.7 739.5 1464.7 740.7 1464.8 741.9 1464.9 743.1 1464.9 744.3 1465.0 745.5 1465.1 746.7 1465.2 747.9 1465.2 749.1 1465.3 750.3 1465.4 751.5 1465.5 752.7 1465.5 753.9 1465.6 755.1 1465.7 756.3 1465.8 757.5 1465.8 758.7 1465.9 759.9 1466.0 761.1 1466.1 762.3 1466.2 763.5 1466.2 764.7 1466.3 765.9 1466.4 767.1 1466.5 768.3 1466.6 769.5 1466.6 770.7 1466.7 771.9 1466.8 773.1 1466.9 774.3 1467.0 775.5 1467.1 776.7 1467.2 777.9 1467.2 779.1 1467.3 780.3 1467.4 781.5 1467.5 782.7 1467.6 783.9 1467.7 785.1 1467.8 786.3 1467.9 787.5 1468.0 788.7 1468.1 789.9 1468.2 791.1 1468.3 792.3 1468.4 793.5 1468.5 794.7 1468.5 795.9 1468.6 797.1 1468.7 798.3 1468.8 799.5 1468.9 800.7 1469.0 801.9 1469.1 803.1 1469.3 804.3 1469.4 805.5 1469.5 806.7 1469.6 807.9 1469.7 809.1 1469.8 810.3 1469.9 811.5 1470.0 812.7 1470.1 813.9 1470.2 815.1 1470.3 816.3 1470.4 817.4 1470.5 818.6 1470.7 819.8 1470.8 821.0 1470.9 822.2 1471.0 823.4 1471.1 824.6 1471.2 825.8 1471.4 827.0 1471.5 828.2 1471.6 829.4 1471.7 830.6 1471.8 831.8 1472.0 833.0 1472.1 834.2 1472.2 835.4 1472.3 836.6 1472.5 837.8 1472.6 839.0 1472.7 840.2 1472.8 841.4 1473.0 842.6 1473.1 843.8 1473.2 845.0 1473.4 846.2 1473.5 847.4 1473.6 848.6 1473.8 849.8 1473.9 850.9 1474.1 852.1 1474.2 853.3 1474.3 854.5 1474.5 855.7 1474.6 856.9 1474.8 858.1 1474.9 859.3 1475.0 860.5 1475.2 861.7 1475.3 862.9 1475.5 864.1 1475.6 865.3 1475.8 866.5 1475.9 867.7 1476.1 868.9 1476.2 870.1 1476.4 871.2 1476.6 872.4 1476.7 873.6 1476.9 874.8 1477.0 876.0 1477.2 877.2 1477.4 878.4 1477.5 879.6 1477.7 880.8 1477.8 882.0 1478.0 883.2 1478.2 884.4 1478.4 885.5 1478.5 886.7 1478.7 887.9 1478.9 889.1 1479.0 890.3 1479.2 891.5 1479.4 892.7 1479.6 893.9 1479.7 895.1 1479.9 896.3 1480.1 897.5 1480.3 898.6 1480.5 899.8 1480.6 901.0 1480.8 902.2 1481.0 903.4 1481.2 904.6 1481.4 905.8 1481.6 907.0 1481.8 908.1 1482.0 909.3 1482.2 910.5 1482.4 911.7 1482.6 912.9 1482.8 914.1 1483.0 915.3 1483.2 916.5 1483.4 917.6 1483.6 918.8 1483.8 920.0 1484.0 921.2 1484.2 922.4 1484.4 923.6 1484.6 924.7 1484.8 925.9 1485.0 927.1 1485.2 928.3 1485.5 929.5 1485.7 930.7 1485.9 931.8 1486.1 933.0 1486.3 934.2 1486.6 935.4 1486.8 936.6 1487.0 937.8 1487.2 938.9 1487.5 940.1 1487.7 941.3 1487.9 942.5 1488.2 943.7 1488.4 944.8 1488.6 946.0 1488.9 947.2 1489.1 948.4 1489.3 949.6 1489.6 950.7 1489.8 951.9 1490.1 953.1 1490.3 954.3 1490.6 955.4 1490.8 956.6 1491.1 957.8 1491.3 959.0 1491.6 960.1 1491.9 961.3 1492.1 962.5 1492.4 963.7 1492.7 964.8 1493.0 966.0 1493.2 967.2 1493.5 968.3 1493.8 969.5 1494.1 970.7 1494.4 971.9 1494.6 973.0 1494.9 974.2 1495.2 975.4 1495.5 976.5 1495.8 977.7 1496.1 978.8 1496.5 980.0 1496.8 981.2 1497.1 982.3 1497.4 983.5 1497.7 984.7 1498.0 985.8 1498.4 987.0 1498.7 988.1 1499.0 989.3 1499.4 990.4 1499.7 991.6 1500.1 992.7 1500.4 993.9 1500.8 995.0 1501.1 996.2 1501.5 997.3 1501.9 998.5 1502.2 999.6 1502.6 1000.8 1503.0 1001.9 1503.4 1003.1 1503.7 1004.2 1504.1 1005.3 1504.5 1006.5 1504.9 1007.6 1505.3 1008.7 1505.7 1009.9 1506.1 1011.0 1506.6 1012.1 1507.0 1013.3 1507.4 1014.4 1507.8 1015.5 1508.3 1016.6 1508.7 1017.7 1509.2 1018.9 1509.6 1020.0 1510.1 1021.1 1510.6 1022.2 1511.0 1023.3 1511.5 1024.4 1512.0 1025.5 1512.5 1026.6 1513.0 1027.7 1513.5 1028.8 1514.1 1029.8 1514.6 1030.9 1515.1 1032.0 1515.7 1033.1 1516.2 1034.1 1516.8 1035.2 1517.4 1036.3 1517.9 1037.3 1518.5 1038.4 1519.1 1039.4 1519.8 1040.4 1520.4 1041.5 1521.0 1042.5 1521.7 1043.5 1522.3 1044.5 1523.0 1045.5 1523.7 1046.5 1524.4 1047.5 1525.1 1048.5 1525.8 1049.4 1526.5 1050.4 1527.2 1051.3 1528.0 1052.3 1528.8 1053.2 1529.5 1054.1 1530.3 1055.0 1531.1 1055.9 1532.0 1056.8 1532.8 1057.7 1533.6 1058.5 1534.5 1059.4 1535.4 1060.2 1536.2 1061.0 1537.1 1061.8 1538.1 1062.6 1539.0 1063.4 1539.9 1064.1 1540.9 1064.9 1541.8 1065.6 1542.8 1066.3 1543.8 1067.0 1544.8 1067.6 1545.8 1068.3 1546.8 1068.9 1547.9 1069.5 1548.9 1070.2 1549.9 1070.7 1551.0 1071.3 1552.1 1071.9 1553.1 1072.4 1554.2 1072.9 1555.3 1073.4 1556.4 1073.9 1557.5 1074.4 1558.7 1074.8 1559.8 1075.2 1560.9 1075.6 1562.1 1076.0 1563.2 1076.4 1564.3 1076.8 1565.5 1077.1 1566.7 1077.4 1567.8 1077.7 1569.0 1078.0 1570.2 1078.2 1571.4 1078.5 1572.5 1078.7 1573.7 1078.9 1574.9 1079.1 1576.1 1079.3 1577.3 1079.4 1578.5 1079.5 1579.7 1079.6 1580.9 1079.7 1582.1 1079.8 1583.3 1079.8 1584.5 1079.8 1585.7 1079.8 1586.9 1079.8 1588.1 1079.8 1589.3 1079.7 1590.5 1079.7 1591.7 1079.6 1592.9 1079.5 1594.1 1079.4 1595.3 1079.3 1596.5 1079.1 1597.7 1079.0 1598.9 1078.9 1600.1 1078.7 1601.3 1078.5 1602.5 1078.4 1603.7 1078.2 1604.8 1078.0 1606.0 1077.8 1607.2 1077.6 1608.4 1077.4 1609.6 1077.2 1610.8 1077.0 1612.0 1076.8 1613.1 1076.6 1614.3 1076.4 1615.5 1076.2 1616.7 1076.0 1617.9 1075.8 1619.1 1075.6 1620.3 1075.4 1621.4 1075.2 1622.6 1075.0 1623.8 1074.8 1625.0 1074.6 1626.2 1074.3 1627.4 1074.1 1628.6 1073.9 1629.7 1073.7 1630.9 1073.5 1632.1 1073.3 1633.3 1073.2 1634.5 1073.0 1635.7 1072.8 1636.9 1072.6 1638.1 1072.4 1639.2 1072.2 1640.4 1072.1 1641.6 1071.9 1642.8 1071.8 1644.0 1071.6 1645.2 1071.4 1646.4 1071.3 1647.6 1071.2 1648.8 1071.0 1650.0 1070.9 1651.2 1070.8 1652.4 1070.7 1653.6 1070.6 1654.8 1070.5 1656.0 1070.4 1657.2 1070.3 1658.4 1070.2 1659.6 1070.2 1660.8 1070.1 1662.0 1070.1 1663.2 1070.0 1664.4 1070.0 1665.6 1070.0 1666.8 1070.0 1668.0 1070.0 1669.2 1070.0" fill="none" stroke="#f0f" stroke-width="11" stroke-linecap="round" stroke-linejoin="round"/>
<rect x="273.2" y="45.5" width="1473.0" height="1239.8" fill="none" stroke="#000" stroke-width="11.5"/>
<path d="M346.8 1285.3L346.8 1268.5 M346.8 45.5L346.8 62.3 M420.5 1285.3L420.5 1252.4 M420.5 45.5L420.5 78.4 M494.1 1285.3L494.1 1268.5 M494.1 45.5L494.1 62.3 M567.8 1285.3L567.8 1252.4 M567.8 45.5L567.8 78.4 M641.5 1285.3L641.5 1268.5 M641.5 45.5L641.5 62.3 M715.1 1285.3L715.1 1252.4 M715.1 45.5L715.1 78.4 M788.8 1285.3L788.8 1268.5 M788.8 45.5L788.8 62.3 M862.4 1285.3L862.4 1252.4 M862.4 45.5L862.4 78.4 M936.1 1285.3L936.1 1268.5 M936.1 45.5L936.1 62.3 M1009.8 1285.3L1009.8 1252.4 M1009.8 45.5L1009.8 78.4 M1083.4 1285.3L1083.4 1268.5 M1083.4 45.5L1083.4 62.3 M1157.1 1285.3L1157.1 1252.4 M1157.1 45.5L1157.1 78.4 M1230.7 1285.3L1230.7 1268.5 M1230.7 45.5L1230.7 62.3 M1304.4 1285.3L1304.4 1252.4 M1304.4 45.5L1304.4 78.4 M1378.0 1285.3L1378.0 1268.5 M1378.0 45.5L1378.0 62.3 M1451.7 1285.3L1451.7 1252.4 M1451.7 45.5L1451.7 78.4 M1525.4 1285.3L1525.4 1268.5 M1525.4 45.5L1525.4 62.3 M1599.0 1285.3L1599.0 1252.4 M1599.0 45.5L1599.0 78.4 M1672.7 1285.3L1672.7 1268.5 M1672.7 45.5L1672.7 62.3 M273.2 1148.5L290.0 1148.5 M1746.2 1148.5L1729.4 1148.5 M273.2 1010.5L306.1 1010.5 M1746.2 1010.5L1713.3 1010.5 M273.2 872.5L290.0 872.5 M1746.2 872.5L1729.4 872.5 M273.2 734.5L306.1 734.5 M1746.2 734.5L1713.3 734.5 M273.2 596.5L290.0 596.5 M1746.2 596.5L1729.4 596.5 M273.2 458.5L306.1 458.5 M1746.2 458.5L1713.3 458.5 M273.2 320.5L290.0 320.5 M1746.2 320.5L1729.4 320.5 M273.2 182.5L306.1 182.5 M1746.2 182.5L1713.3 182.5" stroke="#000" stroke-width="10.6" fill="none"/>
<text transform="translate(236.5 210.5) scale(0.905 1)" font-size="76" text-anchor="end" stroke="#fff" stroke-width="1.6">0</text>
<text transform="translate(236.5 486.5) scale(0.905 1)" font-size="76" text-anchor="end" stroke="#fff" stroke-width="1.6">−10</text>
<text transform="translate(236.5 762.5) scale(0.905 1)" font-size="76" text-anchor="end" stroke="#fff" stroke-width="1.6">−20</text>
<text transform="translate(236.5 1038.5) scale(0.905 1)" font-size="76" text-anchor="end" stroke="#fff" stroke-width="1.6">−30</text>
<text transform="translate(236.5 1314.5) scale(0.905 1)" font-size="76" text-anchor="end" stroke="#fff" stroke-width="1.6">−40</text>
<text transform="translate(272.4 1381.5) scale(0.905 1)" font-size="76" text-anchor="middle" stroke="#fff" stroke-width="1.6">−100</text>
<text transform="translate(419.7 1381.5) scale(0.905 1)" font-size="76" text-anchor="middle" stroke="#fff" stroke-width="1.6">−80</text>
<text transform="translate(567.0 1381.5) scale(0.905 1)" font-size="76" text-anchor="middle" stroke="#fff" stroke-width="1.6">−60</text>
<text transform="translate(714.3 1381.5) scale(0.905 1)" font-size="76" text-anchor="middle" stroke="#fff" stroke-width="1.6">−40</text>
<text transform="translate(861.6 1381.5) scale(0.905 1)" font-size="76" text-anchor="middle" stroke="#fff" stroke-width="1.6">−20</text>
<text transform="translate(1009.0 1381.5) scale(0.905 1)" font-size="76" text-anchor="middle" stroke="#fff" stroke-width="1.6">0</text>
<text transform="translate(1156.3 1381.5) scale(0.905 1)" font-size="76" text-anchor="middle" stroke="#fff" stroke-width="1.6">20</text>
<text transform="translate(1303.6 1381.5) scale(0.905 1)" font-size="76" text-anchor="middle" stroke="#fff" stroke-width="1.6">40</text>
<text transform="translate(1450.9 1381.5) scale(0.905 1)" font-size="76" text-anchor="middle" stroke="#fff" stroke-width="1.6">60</text>
<text transform="translate(1598.2 1381.5) scale(0.905 1)" font-size="76" text-anchor="middle" stroke="#fff" stroke-width="1.6">80</text>
<text transform="translate(1745.5 1381.5) scale(0.905 1)" font-size="76" text-anchor="middle" stroke="#fff" stroke-width="1.6">100</text>
<text transform="translate(1011.5 1507) scale(0.988 1)" font-size="100" text-anchor="middle">angle(degree)</text>
<text transform="translate(92.7 664.6) rotate(-90) scale(0.995 1)" font-size="100" text-anchor="middle">Spectrum(dB)</text>
<rect x="318.8" y="752" width="637.5" height="183.9" fill="#fff" stroke="#4a4a4a" stroke-width="2.2"/>
<path d="M331 802H386.5M448 802H488" stroke="#00f" stroke-width="11" stroke-linecap="round"/>
<path d="M331 887.5H488" stroke="#f0f" stroke-width="11" stroke-linecap="round"/>
<text transform="translate(505 825.3) scale(0.983 1)" font-size="70" stroke="#fff" stroke-width="0.8">FLOM-SS</text>
<text transform="translate(505 912) scale(0.998 1)" font-size="70" stroke="#fff" stroke-width="0.8">FLOM-Toeplitz</text>
</svg></body></html>
